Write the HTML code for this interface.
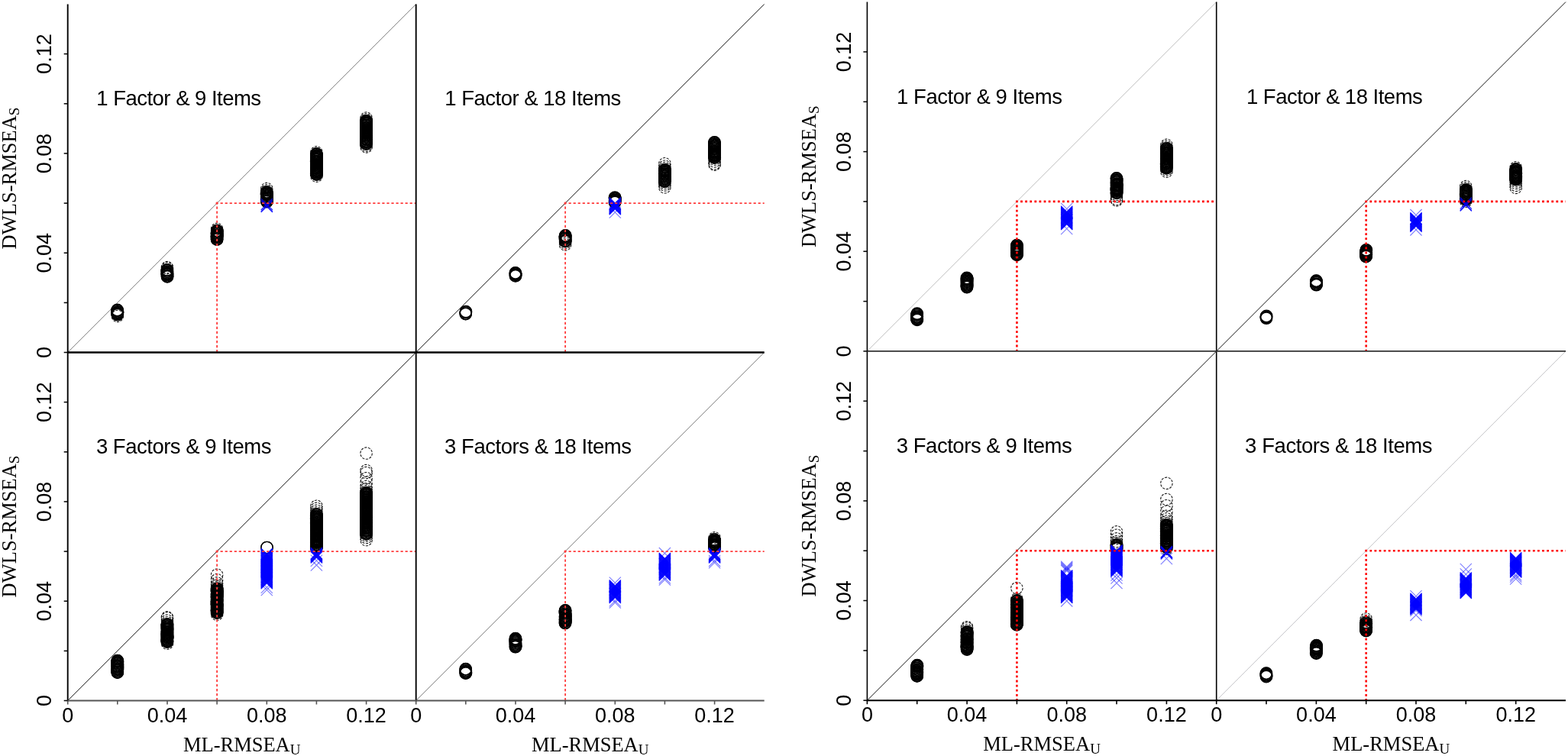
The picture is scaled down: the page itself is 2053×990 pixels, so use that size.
<!DOCTYPE html><html><head><meta charset="utf-8"><title>ML-RMSEA vs DWLS-RMSEA</title><style>
html,body{margin:0;padding:0;background:#fff;width:2053px;height:990px;overflow:hidden}
svg{display:block}
.ax{stroke:#111;fill:none}
.pt circle{fill:none;stroke:#000;stroke-width:1.25}
.pt circle.t{stroke:#000;stroke-width:1.1;stroke-opacity:0.9;stroke-dasharray:3.2 1.6}
.bx path{fill:none;stroke:#0000ff;stroke-width:1.15;stroke-opacity:0.85} .bx path.t{stroke-opacity:0.5}
.tl{font-family:"Liberation Sans",Arial,sans-serif;font-size:27.5px;fill:#000}
.tk{font-family:"Liberation Sans",Arial,sans-serif;font-size:27px;fill:#000}
.lb{font-family:"Liberation Serif","Times New Roman",serif;font-size:26.5px;fill:#000}
</style></head><body>
<svg width="2053" height="990" viewBox="0 0 2053 990">
<rect width="2053" height="990" fill="#fff"/>
<line x1="88.7" y1="461.5" x2="544.7" y2="5.5" stroke="#7a7a7a" stroke-width="1.0"/>
<g class="pt"><circle cx="153.61" cy="405.93" r="7.7"/><circle cx="153.81" cy="412.28" r="7.7"/><circle cx="153.63" cy="406.28" r="7.7"/><circle cx="153.64" cy="407.10" r="7.7"/><circle cx="153.81" cy="408.28" r="7.7"/><circle cx="154.01" cy="408.87" r="7.7"/><circle cx="153.65" cy="410.03" r="7.7"/><circle cx="153.70" cy="410.84" r="7.7"/><circle cx="153.91" cy="411.58" r="7.7"/><circle cx="154.07" cy="409.15" r="7.7"/><circle cx="153.8" cy="413.88" r="7.7" class="t"/><circle cx="218.92" cy="353.22" r="7.7"/><circle cx="219.01" cy="362.48" r="7.7"/><circle cx="218.77" cy="353.68" r="7.7"/><circle cx="218.77" cy="354.43" r="7.7"/><circle cx="218.84" cy="355.57" r="7.7"/><circle cx="219.08" cy="355.94" r="7.7"/><circle cx="218.95" cy="357.19" r="7.7"/><circle cx="218.89" cy="357.74" r="7.7"/><circle cx="219.03" cy="358.51" r="7.7"/><circle cx="218.96" cy="359.34" r="7.7"/><circle cx="218.89" cy="360.28" r="7.7"/><circle cx="219.13" cy="361.37" r="7.7"/><circle cx="219.09" cy="361.89" r="7.7"/><circle cx="218.86" cy="358.60" r="7.7"/><circle cx="219.02" cy="359.13" r="7.7"/><circle cx="219.0" cy="351.22" r="7.7" class="t"/><circle cx="219.0" cy="350.12" r="7.7" class="t"/><circle cx="284.17" cy="301.82" r="7.7"/><circle cx="284.11" cy="313.68" r="7.7"/><circle cx="284.30" cy="302.44" r="7.7"/><circle cx="284.35" cy="303.21" r="7.7"/><circle cx="284.12" cy="303.83" r="7.7"/><circle cx="284.21" cy="305.03" r="7.7"/><circle cx="283.91" cy="305.44" r="7.7"/><circle cx="284.23" cy="306.44" r="7.7"/><circle cx="284.20" cy="307.46" r="7.7"/><circle cx="284.38" cy="308.00" r="7.7"/><circle cx="284.29" cy="309.01" r="7.7"/><circle cx="284.02" cy="309.63" r="7.7"/><circle cx="284.07" cy="310.80" r="7.7"/><circle cx="284.21" cy="311.69" r="7.7"/><circle cx="283.89" cy="312.44" r="7.7"/><circle cx="284.11" cy="313.44" r="7.7"/><circle cx="283.96" cy="305.54" r="7.7"/><circle cx="283.94" cy="310.06" r="7.7"/><circle cx="283.91" cy="308.87" r="7.7"/><circle cx="284.1" cy="299.82" r="7.7" class="t"/><circle cx="349.14" cy="251.32" r="7.7"/><circle cx="349.26" cy="264.07" r="7.7"/><circle cx="349.32" cy="251.56" r="7.7"/><circle cx="349.15" cy="252.47" r="7.7"/><circle cx="349.02" cy="253.39" r="7.7"/><circle cx="349.23" cy="254.49" r="7.7"/><circle cx="349.21" cy="254.94" r="7.7"/><circle cx="349.30" cy="255.97" r="7.7"/><circle cx="349.50" cy="256.88" r="7.7"/><circle cx="349.37" cy="257.90" r="7.7"/><circle cx="349.28" cy="258.71" r="7.7"/><circle cx="349.33" cy="259.59" r="7.7"/><circle cx="349.36" cy="260.14" r="7.7"/><circle cx="349.05" cy="261.06" r="7.7"/><circle cx="349.47" cy="261.88" r="7.7"/><circle cx="349.41" cy="263.00" r="7.7"/><circle cx="349.46" cy="263.88" r="7.7"/><circle cx="349.42" cy="253.25" r="7.7"/><circle cx="349.22" cy="253.57" r="7.7"/><circle cx="349.22" cy="254.28" r="7.7"/><circle cx="349.3" cy="249.32" r="7.7" class="t"/><circle cx="349.3" cy="247.03" r="7.7" class="t"/><circle cx="414.43" cy="201.32" r="7.7"/><circle cx="414.55" cy="228.68" r="7.7"/><circle cx="414.33" cy="201.52" r="7.7"/><circle cx="414.28" cy="202.32" r="7.7"/><circle cx="414.57" cy="203.20" r="7.7"/><circle cx="414.66" cy="203.98" r="7.7"/><circle cx="414.59" cy="204.87" r="7.7"/><circle cx="414.57" cy="205.53" r="7.7"/><circle cx="414.57" cy="206.31" r="7.7"/><circle cx="414.53" cy="207.19" r="7.7"/><circle cx="414.28" cy="207.97" r="7.7"/><circle cx="414.42" cy="208.90" r="7.7"/><circle cx="414.34" cy="209.54" r="7.7"/><circle cx="414.18" cy="210.76" r="7.7"/><circle cx="414.18" cy="211.44" r="7.7"/><circle cx="414.30" cy="212.01" r="7.7"/><circle cx="414.29" cy="212.87" r="7.7"/><circle cx="414.51" cy="213.72" r="7.7"/><circle cx="414.64" cy="214.53" r="7.7"/><circle cx="414.39" cy="215.22" r="7.7"/><circle cx="414.63" cy="216.38" r="7.7"/><circle cx="414.66" cy="217.25" r="7.7"/><circle cx="414.64" cy="217.80" r="7.7"/><circle cx="414.35" cy="218.61" r="7.7"/><circle cx="414.27" cy="219.22" r="7.7"/><circle cx="414.28" cy="220.04" r="7.7"/><circle cx="414.26" cy="220.96" r="7.7"/><circle cx="414.27" cy="221.72" r="7.7"/><circle cx="414.48" cy="222.80" r="7.7"/><circle cx="414.61" cy="223.28" r="7.7"/><circle cx="414.58" cy="224.02" r="7.7"/><circle cx="414.40" cy="225.27" r="7.7"/><circle cx="414.49" cy="225.87" r="7.7"/><circle cx="414.56" cy="226.49" r="7.7"/><circle cx="414.21" cy="227.49" r="7.7"/><circle cx="414.49" cy="228.04" r="7.7"/><circle cx="414.62" cy="215.77" r="7.7"/><circle cx="414.56" cy="228.09" r="7.7"/><circle cx="414.54" cy="224.94" r="7.7"/><circle cx="414.40" cy="220.37" r="7.7"/><circle cx="414.25" cy="208.47" r="7.7"/><circle cx="414.56" cy="211.35" r="7.7"/><circle cx="414.33" cy="205.89" r="7.7"/><circle cx="414.56" cy="222.44" r="7.7"/><circle cx="414.4" cy="199.32" r="7.7" class="t"/><circle cx="414.4" cy="230.68" r="7.7" class="t"/><circle cx="479.39" cy="158.32" r="7.7"/><circle cx="479.54" cy="188.68" r="7.7"/><circle cx="479.67" cy="158.69" r="7.7"/><circle cx="479.59" cy="159.78" r="7.7"/><circle cx="479.47" cy="160.49" r="7.7"/><circle cx="479.57" cy="161.03" r="7.7"/><circle cx="479.58" cy="161.83" r="7.7"/><circle cx="479.70" cy="162.66" r="7.7"/><circle cx="479.36" cy="163.86" r="7.7"/><circle cx="479.59" cy="164.63" r="7.7"/><circle cx="479.43" cy="165.12" r="7.7"/><circle cx="479.45" cy="166.28" r="7.7"/><circle cx="479.69" cy="167.17" r="7.7"/><circle cx="479.56" cy="167.84" r="7.7"/><circle cx="479.59" cy="168.50" r="7.7"/><circle cx="479.69" cy="169.42" r="7.7"/><circle cx="479.76" cy="170.04" r="7.7"/><circle cx="479.53" cy="170.80" r="7.7"/><circle cx="479.61" cy="172.09" r="7.7"/><circle cx="479.56" cy="172.75" r="7.7"/><circle cx="479.56" cy="173.51" r="7.7"/><circle cx="479.65" cy="174.53" r="7.7"/><circle cx="479.53" cy="175.11" r="7.7"/><circle cx="479.57" cy="176.14" r="7.7"/><circle cx="479.55" cy="176.94" r="7.7"/><circle cx="479.78" cy="177.46" r="7.7"/><circle cx="479.66" cy="178.30" r="7.7"/><circle cx="479.75" cy="179.14" r="7.7"/><circle cx="479.78" cy="179.93" r="7.7"/><circle cx="479.44" cy="180.92" r="7.7"/><circle cx="479.59" cy="181.58" r="7.7"/><circle cx="479.78" cy="182.48" r="7.7"/><circle cx="479.73" cy="183.16" r="7.7"/><circle cx="479.38" cy="184.37" r="7.7"/><circle cx="479.37" cy="184.91" r="7.7"/><circle cx="479.53" cy="185.78" r="7.7"/><circle cx="479.34" cy="186.67" r="7.7"/><circle cx="479.43" cy="187.64" r="7.7"/><circle cx="479.34" cy="188.23" r="7.7"/><circle cx="479.64" cy="186.18" r="7.7"/><circle cx="479.70" cy="173.55" r="7.7"/><circle cx="479.76" cy="174.47" r="7.7"/><circle cx="479.38" cy="174.21" r="7.7"/><circle cx="479.67" cy="158.89" r="7.7"/><circle cx="479.64" cy="171.68" r="7.7"/><circle cx="479.38" cy="163.88" r="7.7"/><circle cx="479.75" cy="158.44" r="7.7"/><circle cx="479.79" cy="182.58" r="7.7"/><circle cx="479.6" cy="156.32" r="7.7" class="t"/><circle cx="479.6" cy="154.52" r="7.7" class="t"/><circle cx="479.6" cy="190.68" r="7.7" class="t"/><circle cx="479.6" cy="192.38" r="7.7" class="t"/></g>
<g class="bx"><path d="M341.7 259.8l15.2 15.2m-15.2 0l15.2 -15.2"/><path d="M341.7 261.7l15.2 15.2m-15.2 0l15.2 -15.2"/><path d="M341.7 262.8l15.2 15.2m-15.2 0l15.2 -15.2"/></g>
<path d="M284.13 264.47V461.5M282.53 266.07H544.7" fill="none" stroke="#ff3b3b" stroke-width="1.8" stroke-dasharray="3.2 2.85"/>
<text class="tl" x="126.3" y="137.7" textLength="215.8">1 Factor &amp; 9 Items</text>
<line x1="544.7" y1="461.5" x2="1000.7" y2="5.5" stroke="#111" stroke-width="1.0"/>
<g class="pt"><circle cx="610.01" cy="408.02" r="7.7"/><circle cx="609.67" cy="411.07" r="7.7"/><circle cx="609.81" cy="408.47" r="7.7"/><circle cx="609.85" cy="409.54" r="7.7"/><circle cx="609.76" cy="410.87" r="7.7"/><circle cx="674.74" cy="357.32" r="7.7"/><circle cx="674.90" cy="361.38" r="7.7"/><circle cx="675.05" cy="357.58" r="7.7"/><circle cx="674.99" cy="358.45" r="7.7"/><circle cx="674.77" cy="359.46" r="7.7"/><circle cx="675.23" cy="359.93" r="7.7"/><circle cx="675.13" cy="361.00" r="7.7"/><circle cx="675.22" cy="359.11" r="7.7"/><circle cx="740.34" cy="308.32" r="7.7"/><circle cx="740.16" cy="316.18" r="7.7"/><circle cx="740.23" cy="308.55" r="7.7"/><circle cx="739.92" cy="309.51" r="7.7"/><circle cx="739.91" cy="310.26" r="7.7"/><circle cx="740.22" cy="311.52" r="7.7"/><circle cx="740.09" cy="312.13" r="7.7"/><circle cx="739.91" cy="312.93" r="7.7"/><circle cx="740.35" cy="313.95" r="7.7"/><circle cx="740.20" cy="315.08" r="7.7"/><circle cx="740.28" cy="315.91" r="7.7"/><circle cx="739.92" cy="310.36" r="7.7"/><circle cx="740.31" cy="309.50" r="7.7"/><circle cx="740.1" cy="318.18" r="7.7" class="t"/><circle cx="740.1" cy="320.44" r="7.7" class="t"/><circle cx="805.05" cy="258.62" r="7.7"/><circle cx="805.12" cy="265.18" r="7.7"/><circle cx="805.18" cy="259.01" r="7.7"/><circle cx="805.17" cy="259.77" r="7.7"/><circle cx="805.40" cy="260.70" r="7.7"/><circle cx="805.17" cy="261.70" r="7.7"/><circle cx="805.27" cy="262.20" r="7.7"/><circle cx="805.11" cy="262.95" r="7.7"/><circle cx="805.19" cy="263.96" r="7.7"/><circle cx="805.03" cy="264.64" r="7.7"/><circle cx="805.15" cy="259.34" r="7.7"/><circle cx="805.03" cy="259.68" r="7.7"/><circle cx="870.53" cy="222.02" r="7.7"/><circle cx="870.29" cy="237.98" r="7.7"/><circle cx="870.25" cy="222.56" r="7.7"/><circle cx="870.21" cy="223.31" r="7.7"/><circle cx="870.58" cy="223.97" r="7.7"/><circle cx="870.60" cy="224.95" r="7.7"/><circle cx="870.50" cy="226.02" r="7.7"/><circle cx="870.31" cy="226.44" r="7.7"/><circle cx="870.29" cy="227.64" r="7.7"/><circle cx="870.31" cy="228.29" r="7.7"/><circle cx="870.39" cy="229.16" r="7.7"/><circle cx="870.24" cy="230.17" r="7.7"/><circle cx="870.39" cy="230.79" r="7.7"/><circle cx="870.30" cy="231.68" r="7.7"/><circle cx="870.65" cy="232.61" r="7.7"/><circle cx="870.65" cy="233.60" r="7.7"/><circle cx="870.44" cy="234.12" r="7.7"/><circle cx="870.29" cy="235.20" r="7.7"/><circle cx="870.65" cy="235.98" r="7.7"/><circle cx="870.32" cy="236.78" r="7.7"/><circle cx="870.34" cy="237.51" r="7.7"/><circle cx="870.16" cy="227.57" r="7.7"/><circle cx="870.36" cy="222.89" r="7.7"/><circle cx="870.40" cy="224.10" r="7.7"/><circle cx="870.42" cy="223.15" r="7.7"/><circle cx="870.4" cy="220.02" r="7.7" class="t"/><circle cx="870.4" cy="217.66" r="7.7" class="t"/><circle cx="870.4" cy="214.27" r="7.7" class="t"/><circle cx="870.4" cy="239.98" r="7.7" class="t"/><circle cx="870.4" cy="242.39" r="7.7" class="t"/><circle cx="870.4" cy="245.36" r="7.7" class="t"/><circle cx="935.65" cy="186.32" r="7.7"/><circle cx="935.42" cy="206.68" r="7.7"/><circle cx="935.32" cy="186.51" r="7.7"/><circle cx="935.37" cy="187.31" r="7.7"/><circle cx="935.49" cy="188.26" r="7.7"/><circle cx="935.36" cy="189.04" r="7.7"/><circle cx="935.73" cy="190.03" r="7.7"/><circle cx="935.59" cy="190.82" r="7.7"/><circle cx="935.62" cy="191.74" r="7.7"/><circle cx="935.62" cy="192.51" r="7.7"/><circle cx="935.65" cy="193.35" r="7.7"/><circle cx="935.55" cy="194.24" r="7.7"/><circle cx="935.31" cy="194.82" r="7.7"/><circle cx="935.71" cy="195.60" r="7.7"/><circle cx="935.68" cy="196.74" r="7.7"/><circle cx="935.56" cy="197.14" r="7.7"/><circle cx="935.57" cy="198.24" r="7.7"/><circle cx="935.64" cy="199.01" r="7.7"/><circle cx="935.34" cy="199.53" r="7.7"/><circle cx="935.68" cy="200.73" r="7.7"/><circle cx="935.43" cy="201.58" r="7.7"/><circle cx="935.34" cy="202.26" r="7.7"/><circle cx="935.44" cy="203.13" r="7.7"/><circle cx="935.67" cy="203.98" r="7.7"/><circle cx="935.41" cy="204.46" r="7.7"/><circle cx="935.68" cy="205.47" r="7.7"/><circle cx="935.80" cy="206.27" r="7.7"/><circle cx="935.55" cy="203.32" r="7.7"/><circle cx="935.50" cy="202.70" r="7.7"/><circle cx="935.55" cy="203.14" r="7.7"/><circle cx="935.65" cy="198.21" r="7.7"/><circle cx="935.69" cy="204.49" r="7.7"/><circle cx="935.62" cy="200.22" r="7.7"/><circle cx="935.6" cy="208.68" r="7.7" class="t"/><circle cx="935.6" cy="211.39" r="7.7" class="t"/><circle cx="935.6" cy="214.34" r="7.7" class="t"/><circle cx="935.6" cy="215.68" r="7.7" class="t"/></g>
<g class="bx"><path d="M797.7 258.4l15.2 15.2m-15.2 0l15.2 -15.2"/><path d="M797.7 259.1l15.2 15.2m-15.2 0l15.2 -15.2"/><path d="M797.7 259.8l15.2 15.2m-15.2 0l15.2 -15.2"/><path d="M797.7 260.5l15.2 15.2m-15.2 0l15.2 -15.2"/><path d="M797.7 261.2l15.2 15.2m-15.2 0l15.2 -15.2"/><path d="M797.7 261.9l15.2 15.2m-15.2 0l15.2 -15.2"/><path d="M797.7 262.7l15.2 15.2m-15.2 0l15.2 -15.2"/><path d="M797.7 263.4l15.2 15.2m-15.2 0l15.2 -15.2"/><path d="M797.7 264.1l15.2 15.2m-15.2 0l15.2 -15.2"/><path d="M797.7 264.8l15.2 15.2m-15.2 0l15.2 -15.2"/><path d="M797.7 265.5l15.2 15.2m-15.2 0l15.2 -15.2"/><path d="M797.7 266.2l15.2 15.2m-15.2 0l15.2 -15.2"/><path class="t" d="M797.7 270.5l15.2 15.2m-15.2 0l15.2 -15.2"/></g>
<path d="M740.13 264.47V461.5M738.53 266.07H1000.7" fill="none" stroke="#ff3b3b" stroke-width="1.8" stroke-dasharray="3.2 2.85"/>
<text class="tl" x="582.3" y="137.7" textLength="231.0">1 Factor &amp; 18 Items</text>
<line x1="88.7" y1="917.5" x2="544.7" y2="461.5" stroke="#111" stroke-width="1.0"/>
<g class="pt"><circle cx="153.82" cy="865.03" r="7.7"/><circle cx="153.73" cy="880.57" r="7.7"/><circle cx="153.70" cy="865.31" r="7.7"/><circle cx="154.07" cy="866.37" r="7.7"/><circle cx="153.70" cy="866.98" r="7.7"/><circle cx="153.88" cy="867.92" r="7.7"/><circle cx="153.66" cy="868.47" r="7.7"/><circle cx="153.85" cy="869.31" r="7.7"/><circle cx="154.07" cy="870.23" r="7.7"/><circle cx="153.66" cy="871.25" r="7.7"/><circle cx="154.00" cy="872.08" r="7.7"/><circle cx="153.85" cy="872.89" r="7.7"/><circle cx="154.04" cy="873.52" r="7.7"/><circle cx="153.94" cy="874.44" r="7.7"/><circle cx="153.71" cy="875.24" r="7.7"/><circle cx="154.04" cy="876.06" r="7.7"/><circle cx="153.84" cy="876.70" r="7.7"/><circle cx="153.61" cy="877.90" r="7.7"/><circle cx="153.59" cy="878.38" r="7.7"/><circle cx="153.84" cy="879.58" r="7.7"/><circle cx="153.82" cy="880.38" r="7.7"/><circle cx="153.74" cy="865.30" r="7.7"/><circle cx="153.66" cy="872.16" r="7.7"/><circle cx="153.76" cy="877.77" r="7.7"/><circle cx="153.75" cy="880.08" r="7.7"/><circle cx="218.96" cy="817.23" r="7.7"/><circle cx="219.11" cy="840.57" r="7.7"/><circle cx="219.06" cy="817.79" r="7.7"/><circle cx="218.88" cy="818.19" r="7.7"/><circle cx="218.76" cy="819.36" r="7.7"/><circle cx="219.20" cy="820.21" r="7.7"/><circle cx="218.80" cy="820.66" r="7.7"/><circle cx="218.97" cy="821.86" r="7.7"/><circle cx="218.91" cy="822.56" r="7.7"/><circle cx="218.88" cy="823.46" r="7.7"/><circle cx="219.11" cy="823.97" r="7.7"/><circle cx="219.22" cy="824.81" r="7.7"/><circle cx="218.87" cy="825.63" r="7.7"/><circle cx="219.06" cy="826.73" r="7.7"/><circle cx="218.89" cy="827.33" r="7.7"/><circle cx="219.01" cy="828.03" r="7.7"/><circle cx="218.93" cy="828.87" r="7.7"/><circle cx="218.82" cy="829.60" r="7.7"/><circle cx="218.82" cy="830.29" r="7.7"/><circle cx="218.84" cy="831.12" r="7.7"/><circle cx="219.19" cy="832.28" r="7.7"/><circle cx="218.98" cy="832.82" r="7.7"/><circle cx="218.85" cy="833.94" r="7.7"/><circle cx="219.19" cy="834.42" r="7.7"/><circle cx="219.23" cy="835.23" r="7.7"/><circle cx="218.96" cy="836.15" r="7.7"/><circle cx="218.81" cy="836.80" r="7.7"/><circle cx="218.83" cy="837.70" r="7.7"/><circle cx="218.78" cy="838.78" r="7.7"/><circle cx="218.91" cy="839.55" r="7.7"/><circle cx="218.78" cy="840.32" r="7.7"/><circle cx="218.86" cy="831.96" r="7.7"/><circle cx="218.86" cy="838.55" r="7.7"/><circle cx="219.02" cy="839.19" r="7.7"/><circle cx="219.18" cy="830.05" r="7.7"/><circle cx="219.11" cy="834.03" r="7.7"/><circle cx="218.94" cy="818.38" r="7.7"/><circle cx="218.94" cy="834.33" r="7.7"/><circle cx="219.0" cy="815.23" r="7.7" class="t"/><circle cx="219.0" cy="812.61" r="7.7" class="t"/><circle cx="219.0" cy="809.35" r="7.7" class="t"/><circle cx="219.0" cy="808.33" r="7.7" class="t"/><circle cx="219.0" cy="842.57" r="7.7" class="t"/><circle cx="284.17" cy="770.53" r="7.7"/><circle cx="284.07" cy="802.67" r="7.7"/><circle cx="283.99" cy="770.82" r="7.7"/><circle cx="284.18" cy="771.96" r="7.7"/><circle cx="283.88" cy="772.35" r="7.7"/><circle cx="284.03" cy="773.34" r="7.7"/><circle cx="284.11" cy="774.20" r="7.7"/><circle cx="284.36" cy="775.12" r="7.7"/><circle cx="284.20" cy="775.61" r="7.7"/><circle cx="284.32" cy="776.44" r="7.7"/><circle cx="284.12" cy="777.24" r="7.7"/><circle cx="284.00" cy="778.11" r="7.7"/><circle cx="284.00" cy="778.94" r="7.7"/><circle cx="284.36" cy="779.99" r="7.7"/><circle cx="284.23" cy="780.74" r="7.7"/><circle cx="284.03" cy="781.56" r="7.7"/><circle cx="283.89" cy="781.95" r="7.7"/><circle cx="284.13" cy="782.76" r="7.7"/><circle cx="284.22" cy="783.89" r="7.7"/><circle cx="284.09" cy="784.78" r="7.7"/><circle cx="284.01" cy="785.38" r="7.7"/><circle cx="284.21" cy="786.24" r="7.7"/><circle cx="284.34" cy="786.76" r="7.7"/><circle cx="283.99" cy="787.75" r="7.7"/><circle cx="283.90" cy="788.82" r="7.7"/><circle cx="284.05" cy="789.57" r="7.7"/><circle cx="284.09" cy="790.39" r="7.7"/><circle cx="284.22" cy="791.25" r="7.7"/><circle cx="283.98" cy="791.70" r="7.7"/><circle cx="284.28" cy="792.44" r="7.7"/><circle cx="284.25" cy="793.27" r="7.7"/><circle cx="284.13" cy="794.25" r="7.7"/><circle cx="283.98" cy="795.13" r="7.7"/><circle cx="284.36" cy="796.06" r="7.7"/><circle cx="284.03" cy="796.75" r="7.7"/><circle cx="284.29" cy="797.52" r="7.7"/><circle cx="283.99" cy="798.38" r="7.7"/><circle cx="283.99" cy="799.04" r="7.7"/><circle cx="284.26" cy="799.89" r="7.7"/><circle cx="284.03" cy="800.44" r="7.7"/><circle cx="284.35" cy="801.61" r="7.7"/><circle cx="284.13" cy="802.14" r="7.7"/><circle cx="283.97" cy="800.10" r="7.7"/><circle cx="283.99" cy="791.28" r="7.7"/><circle cx="284.09" cy="780.29" r="7.7"/><circle cx="284.21" cy="774.64" r="7.7"/><circle cx="284.35" cy="778.62" r="7.7"/><circle cx="283.95" cy="790.98" r="7.7"/><circle cx="284.08" cy="792.98" r="7.7"/><circle cx="283.99" cy="774.13" r="7.7"/><circle cx="284.37" cy="772.79" r="7.7"/><circle cx="283.95" cy="787.39" r="7.7"/><circle cx="284.1" cy="768.53" r="7.7" class="t"/><circle cx="284.1" cy="766.27" r="7.7" class="t"/><circle cx="284.1" cy="763.34" r="7.7" class="t"/><circle cx="284.1" cy="759.09" r="7.7" class="t"/><circle cx="284.1" cy="752.69" r="7.7" class="t"/><circle cx="284.1" cy="804.67" r="7.7" class="t"/><circle cx="349.52" cy="717.00" r="7.7"/><circle cx="349.49" cy="717.00" r="7.7"/><circle cx="414.33" cy="673.33" r="7.7"/><circle cx="414.32" cy="717.67" r="7.7"/><circle cx="414.35" cy="673.65" r="7.7"/><circle cx="414.56" cy="674.38" r="7.7"/><circle cx="414.20" cy="675.55" r="7.7"/><circle cx="414.26" cy="676.27" r="7.7"/><circle cx="414.54" cy="676.73" r="7.7"/><circle cx="414.29" cy="677.84" r="7.7"/><circle cx="414.20" cy="678.51" r="7.7"/><circle cx="414.18" cy="679.31" r="7.7"/><circle cx="414.44" cy="680.10" r="7.7"/><circle cx="414.33" cy="680.83" r="7.7"/><circle cx="414.65" cy="681.55" r="7.7"/><circle cx="414.61" cy="682.49" r="7.7"/><circle cx="414.66" cy="683.33" r="7.7"/><circle cx="414.30" cy="684.43" r="7.7"/><circle cx="414.21" cy="684.84" r="7.7"/><circle cx="414.21" cy="686.05" r="7.7"/><circle cx="414.41" cy="686.49" r="7.7"/><circle cx="414.52" cy="687.37" r="7.7"/><circle cx="414.39" cy="688.40" r="7.7"/><circle cx="414.28" cy="689.20" r="7.7"/><circle cx="414.37" cy="689.82" r="7.7"/><circle cx="414.47" cy="690.44" r="7.7"/><circle cx="414.50" cy="691.46" r="7.7"/><circle cx="414.54" cy="692.21" r="7.7"/><circle cx="414.59" cy="693.28" r="7.7"/><circle cx="414.50" cy="693.74" r="7.7"/><circle cx="414.22" cy="694.63" r="7.7"/><circle cx="414.58" cy="695.69" r="7.7"/><circle cx="414.31" cy="696.08" r="7.7"/><circle cx="414.45" cy="697.07" r="7.7"/><circle cx="414.35" cy="698.07" r="7.7"/><circle cx="414.53" cy="698.85" r="7.7"/><circle cx="414.26" cy="699.31" r="7.7"/><circle cx="414.29" cy="700.11" r="7.7"/><circle cx="414.29" cy="700.93" r="7.7"/><circle cx="414.24" cy="702.15" r="7.7"/><circle cx="414.61" cy="702.64" r="7.7"/><circle cx="414.45" cy="703.68" r="7.7"/><circle cx="414.33" cy="704.56" r="7.7"/><circle cx="414.36" cy="705.10" r="7.7"/><circle cx="414.66" cy="705.87" r="7.7"/><circle cx="414.42" cy="707.01" r="7.7"/><circle cx="414.28" cy="707.65" r="7.7"/><circle cx="414.57" cy="708.29" r="7.7"/><circle cx="414.49" cy="709.31" r="7.7"/><circle cx="414.66" cy="709.93" r="7.7"/><circle cx="414.22" cy="710.71" r="7.7"/><circle cx="414.40" cy="711.39" r="7.7"/><circle cx="414.57" cy="712.56" r="7.7"/><circle cx="414.58" cy="713.44" r="7.7"/><circle cx="414.62" cy="714.11" r="7.7"/><circle cx="414.18" cy="715.07" r="7.7"/><circle cx="414.31" cy="715.43" r="7.7"/><circle cx="414.22" cy="716.34" r="7.7"/><circle cx="414.26" cy="717.26" r="7.7"/><circle cx="414.65" cy="715.76" r="7.7"/><circle cx="414.46" cy="715.63" r="7.7"/><circle cx="414.63" cy="690.47" r="7.7"/><circle cx="414.35" cy="684.46" r="7.7"/><circle cx="414.60" cy="692.39" r="7.7"/><circle cx="414.39" cy="695.21" r="7.7"/><circle cx="414.29" cy="714.49" r="7.7"/><circle cx="414.55" cy="681.44" r="7.7"/><circle cx="414.64" cy="708.92" r="7.7"/><circle cx="414.22" cy="706.08" r="7.7"/><circle cx="414.46" cy="709.81" r="7.7"/><circle cx="414.47" cy="707.60" r="7.7"/><circle cx="414.27" cy="700.26" r="7.7"/><circle cx="414.4" cy="671.33" r="7.7" class="t"/><circle cx="414.4" cy="668.83" r="7.7" class="t"/><circle cx="414.4" cy="665.81" r="7.7" class="t"/><circle cx="414.4" cy="662.73" r="7.7" class="t"/><circle cx="479.59" cy="645.03" r="7.7"/><circle cx="479.69" cy="699.47" r="7.7"/><circle cx="479.33" cy="645.31" r="7.7"/><circle cx="479.73" cy="646.27" r="7.7"/><circle cx="479.37" cy="647.10" r="7.7"/><circle cx="479.61" cy="647.69" r="7.7"/><circle cx="479.58" cy="648.39" r="7.7"/><circle cx="479.62" cy="649.35" r="7.7"/><circle cx="479.46" cy="650.32" r="7.7"/><circle cx="479.52" cy="650.88" r="7.7"/><circle cx="479.60" cy="651.74" r="7.7"/><circle cx="479.52" cy="652.49" r="7.7"/><circle cx="479.64" cy="653.57" r="7.7"/><circle cx="479.53" cy="654.26" r="7.7"/><circle cx="479.53" cy="654.82" r="7.7"/><circle cx="479.32" cy="655.64" r="7.7"/><circle cx="479.62" cy="656.59" r="7.7"/><circle cx="479.55" cy="657.46" r="7.7"/><circle cx="479.42" cy="658.30" r="7.7"/><circle cx="479.69" cy="658.84" r="7.7"/><circle cx="479.70" cy="659.68" r="7.7"/><circle cx="479.54" cy="660.73" r="7.7"/><circle cx="479.40" cy="661.40" r="7.7"/><circle cx="479.54" cy="662.14" r="7.7"/><circle cx="479.36" cy="662.95" r="7.7"/><circle cx="479.37" cy="664.06" r="7.7"/><circle cx="479.52" cy="664.55" r="7.7"/><circle cx="479.35" cy="665.48" r="7.7"/><circle cx="479.53" cy="666.18" r="7.7"/><circle cx="479.56" cy="667.01" r="7.7"/><circle cx="479.33" cy="668.02" r="7.7"/><circle cx="479.63" cy="668.89" r="7.7"/><circle cx="479.35" cy="669.38" r="7.7"/><circle cx="479.67" cy="670.10" r="7.7"/><circle cx="479.70" cy="671.16" r="7.7"/><circle cx="479.56" cy="671.71" r="7.7"/><circle cx="479.33" cy="672.41" r="7.7"/><circle cx="479.56" cy="673.64" r="7.7"/><circle cx="479.50" cy="674.22" r="7.7"/><circle cx="479.78" cy="675.21" r="7.7"/><circle cx="479.38" cy="675.81" r="7.7"/><circle cx="479.74" cy="676.84" r="7.7"/><circle cx="479.81" cy="677.44" r="7.7"/><circle cx="479.67" cy="678.09" r="7.7"/><circle cx="479.71" cy="678.82" r="7.7"/><circle cx="479.40" cy="679.88" r="7.7"/><circle cx="479.80" cy="680.73" r="7.7"/><circle cx="479.55" cy="681.66" r="7.7"/><circle cx="479.79" cy="682.06" r="7.7"/><circle cx="479.77" cy="683.12" r="7.7"/><circle cx="479.39" cy="683.80" r="7.7"/><circle cx="479.70" cy="684.66" r="7.7"/><circle cx="479.77" cy="685.29" r="7.7"/><circle cx="479.34" cy="686.16" r="7.7"/><circle cx="479.48" cy="687.07" r="7.7"/><circle cx="479.69" cy="688.07" r="7.7"/><circle cx="479.39" cy="688.48" r="7.7"/><circle cx="479.76" cy="689.46" r="7.7"/><circle cx="479.44" cy="690.41" r="7.7"/><circle cx="479.71" cy="691.29" r="7.7"/><circle cx="479.38" cy="691.72" r="7.7"/><circle cx="479.56" cy="692.49" r="7.7"/><circle cx="479.77" cy="693.68" r="7.7"/><circle cx="479.41" cy="694.50" r="7.7"/><circle cx="479.44" cy="695.06" r="7.7"/><circle cx="479.56" cy="695.66" r="7.7"/><circle cx="479.47" cy="696.88" r="7.7"/><circle cx="479.33" cy="697.42" r="7.7"/><circle cx="479.40" cy="698.47" r="7.7"/><circle cx="479.39" cy="699.13" r="7.7"/><circle cx="479.78" cy="689.92" r="7.7"/><circle cx="479.65" cy="653.75" r="7.7"/><circle cx="479.75" cy="687.81" r="7.7"/><circle cx="479.39" cy="657.12" r="7.7"/><circle cx="479.70" cy="667.05" r="7.7"/><circle cx="479.36" cy="691.11" r="7.7"/><circle cx="479.57" cy="690.17" r="7.7"/><circle cx="479.63" cy="654.99" r="7.7"/><circle cx="479.49" cy="656.90" r="7.7"/><circle cx="479.74" cy="666.79" r="7.7"/><circle cx="479.58" cy="673.22" r="7.7"/><circle cx="479.60" cy="665.91" r="7.7"/><circle cx="479.75" cy="651.73" r="7.7"/><circle cx="479.36" cy="658.48" r="7.7"/><circle cx="479.80" cy="684.49" r="7.7"/><circle cx="479.62" cy="693.88" r="7.7"/><circle cx="479.50" cy="647.26" r="7.7"/><circle cx="479.6" cy="643.03" r="7.7" class="t"/><circle cx="479.6" cy="640.19" r="7.7" class="t"/><circle cx="479.6" cy="637.05" r="7.7" class="t"/><circle cx="479.6" cy="632.01" r="7.7" class="t"/><circle cx="479.6" cy="626.17" r="7.7" class="t"/><circle cx="479.6" cy="619.05" r="7.7" class="t"/><circle cx="479.6" cy="616.12" r="7.7" class="t"/><circle cx="479.6" cy="701.47" r="7.7" class="t"/><circle cx="479.6" cy="704.03" r="7.7" class="t"/><circle cx="479.6" cy="707.08" r="7.7" class="t"/><circle cx="479.6" cy="593.60" r="7.7" class="t"/></g>
<g class="bx"><path d="M341.7 717.8l15.2 15.2m-15.2 0l15.2 -15.2"/><path d="M341.7 718.5l15.2 15.2m-15.2 0l15.2 -15.2"/><path d="M341.7 719.2l15.2 15.2m-15.2 0l15.2 -15.2"/><path d="M341.7 719.9l15.2 15.2m-15.2 0l15.2 -15.2"/><path d="M341.7 720.6l15.2 15.2m-15.2 0l15.2 -15.2"/><path d="M341.7 721.3l15.2 15.2m-15.2 0l15.2 -15.2"/><path d="M341.7 722.1l15.2 15.2m-15.2 0l15.2 -15.2"/><path d="M341.7 722.8l15.2 15.2m-15.2 0l15.2 -15.2"/><path d="M341.7 723.5l15.2 15.2m-15.2 0l15.2 -15.2"/><path d="M341.7 724.2l15.2 15.2m-15.2 0l15.2 -15.2"/><path d="M341.7 724.9l15.2 15.2m-15.2 0l15.2 -15.2"/><path d="M341.7 725.6l15.2 15.2m-15.2 0l15.2 -15.2"/><path d="M341.7 726.3l15.2 15.2m-15.2 0l15.2 -15.2"/><path d="M341.7 727.0l15.2 15.2m-15.2 0l15.2 -15.2"/><path d="M341.7 727.7l15.2 15.2m-15.2 0l15.2 -15.2"/><path d="M341.7 728.4l15.2 15.2m-15.2 0l15.2 -15.2"/><path d="M341.7 729.1l15.2 15.2m-15.2 0l15.2 -15.2"/><path d="M341.7 729.9l15.2 15.2m-15.2 0l15.2 -15.2"/><path d="M341.7 730.6l15.2 15.2m-15.2 0l15.2 -15.2"/><path d="M341.7 731.3l15.2 15.2m-15.2 0l15.2 -15.2"/><path d="M341.7 732.0l15.2 15.2m-15.2 0l15.2 -15.2"/><path d="M341.7 732.7l15.2 15.2m-15.2 0l15.2 -15.2"/><path d="M341.7 733.4l15.2 15.2m-15.2 0l15.2 -15.2"/><path d="M341.7 734.1l15.2 15.2m-15.2 0l15.2 -15.2"/><path d="M341.7 734.8l15.2 15.2m-15.2 0l15.2 -15.2"/><path d="M341.7 735.5l15.2 15.2m-15.2 0l15.2 -15.2"/><path d="M341.7 736.2l15.2 15.2m-15.2 0l15.2 -15.2"/><path d="M341.7 736.9l15.2 15.2m-15.2 0l15.2 -15.2"/><path d="M341.7 737.7l15.2 15.2m-15.2 0l15.2 -15.2"/><path d="M341.7 738.4l15.2 15.2m-15.2 0l15.2 -15.2"/><path d="M341.7 739.1l15.2 15.2m-15.2 0l15.2 -15.2"/><path d="M341.7 739.8l15.2 15.2m-15.2 0l15.2 -15.2"/><path d="M341.7 740.5l15.2 15.2m-15.2 0l15.2 -15.2"/><path d="M341.7 741.2l15.2 15.2m-15.2 0l15.2 -15.2"/><path d="M341.7 741.9l15.2 15.2m-15.2 0l15.2 -15.2"/><path d="M341.7 742.6l15.2 15.2m-15.2 0l15.2 -15.2"/><path d="M341.7 743.3l15.2 15.2m-15.2 0l15.2 -15.2"/><path d="M341.7 744.0l15.2 15.2m-15.2 0l15.2 -15.2"/><path d="M341.7 744.8l15.2 15.2m-15.2 0l15.2 -15.2"/><path d="M341.7 745.5l15.2 15.2m-15.2 0l15.2 -15.2"/><path d="M341.7 746.2l15.2 15.2m-15.2 0l15.2 -15.2"/><path d="M341.7 746.9l15.2 15.2m-15.2 0l15.2 -15.2"/><path d="M341.7 747.6l15.2 15.2m-15.2 0l15.2 -15.2"/><path d="M341.7 748.3l15.2 15.2m-15.2 0l15.2 -15.2"/><path d="M341.7 749.0l15.2 15.2m-15.2 0l15.2 -15.2"/><path d="M341.7 749.7l15.2 15.2m-15.2 0l15.2 -15.2"/><path d="M341.7 750.4l15.2 15.2m-15.2 0l15.2 -15.2"/><path d="M341.7 751.1l15.2 15.2m-15.2 0l15.2 -15.2"/><path d="M341.7 751.8l15.2 15.2m-15.2 0l15.2 -15.2"/><path d="M341.7 752.6l15.2 15.2m-15.2 0l15.2 -15.2"/><path d="M341.7 753.3l15.2 15.2m-15.2 0l15.2 -15.2"/><path d="M341.7 754.0l15.2 15.2m-15.2 0l15.2 -15.2"/><path d="M341.7 754.7l15.2 15.2m-15.2 0l15.2 -15.2"/><path d="M341.7 755.4l15.2 15.2m-15.2 0l15.2 -15.2"/><path d="M341.7 756.1l15.2 15.2m-15.2 0l15.2 -15.2"/><path class="t" d="M341.7 761.6l15.2 15.2m-15.2 0l15.2 -15.2"/><path class="t" d="M341.7 764.9l15.2 15.2m-15.2 0l15.2 -15.2"/><path d="M406.8 716.9l15.2 15.2m-15.2 0l15.2 -15.2"/><path d="M406.8 717.7l15.2 15.2m-15.2 0l15.2 -15.2"/><path d="M406.8 718.4l15.2 15.2m-15.2 0l15.2 -15.2"/><path d="M406.8 719.2l15.2 15.2m-15.2 0l15.2 -15.2"/><path d="M406.8 720.0l15.2 15.2m-15.2 0l15.2 -15.2"/><path d="M406.8 720.8l15.2 15.2m-15.2 0l15.2 -15.2"/><path d="M406.8 721.5l15.2 15.2m-15.2 0l15.2 -15.2"/><path d="M406.8 722.3l15.2 15.2m-15.2 0l15.2 -15.2"/><path class="t" d="M406.8 726.6l15.2 15.2m-15.2 0l15.2 -15.2"/><path class="t" d="M406.8 732.5l15.2 15.2m-15.2 0l15.2 -15.2"/></g>
<path d="M284.13 720.47V917.5M282.53 722.07H544.7" fill="none" stroke="#ff3b3b" stroke-width="1.8" stroke-dasharray="3.2 2.85"/>
<text class="tl" x="125.9" y="593.9" textLength="229.6">3 Factors &amp; 9 Items</text>
<line x1="544.7" y1="917.5" x2="1000.7" y2="461.5" stroke="#7a7a7a" stroke-width="1.0"/>
<g class="pt"><circle cx="609.75" cy="876.12" r="7.7"/><circle cx="609.59" cy="881.67" r="7.7"/><circle cx="609.61" cy="876.34" r="7.7"/><circle cx="609.67" cy="877.69" r="7.7"/><circle cx="609.90" cy="878.30" r="7.7"/><circle cx="609.81" cy="879.44" r="7.7"/><circle cx="609.85" cy="880.56" r="7.7"/><circle cx="610.04" cy="881.26" r="7.7"/><circle cx="609.66" cy="879.81" r="7.7"/><circle cx="674.81" cy="836.12" r="7.7"/><circle cx="674.78" cy="847.27" r="7.7"/><circle cx="675.05" cy="836.41" r="7.7"/><circle cx="675.17" cy="837.49" r="7.7"/><circle cx="675.13" cy="838.02" r="7.7"/><circle cx="674.94" cy="838.87" r="7.7"/><circle cx="674.87" cy="839.91" r="7.7"/><circle cx="674.74" cy="840.64" r="7.7"/><circle cx="675.06" cy="841.63" r="7.7"/><circle cx="675.02" cy="842.42" r="7.7"/><circle cx="674.91" cy="843.46" r="7.7"/><circle cx="675.06" cy="844.32" r="7.7"/><circle cx="674.96" cy="844.98" r="7.7"/><circle cx="675.20" cy="846.05" r="7.7"/><circle cx="675.10" cy="846.83" r="7.7"/><circle cx="674.86" cy="837.63" r="7.7"/><circle cx="675.19" cy="846.57" r="7.7"/><circle cx="674.76" cy="838.84" r="7.7"/><circle cx="740.25" cy="799.43" r="7.7"/><circle cx="740.10" cy="816.07" r="7.7"/><circle cx="739.99" cy="799.86" r="7.7"/><circle cx="739.93" cy="800.63" r="7.7"/><circle cx="739.99" cy="801.38" r="7.7"/><circle cx="739.90" cy="802.12" r="7.7"/><circle cx="740.05" cy="803.31" r="7.7"/><circle cx="740.25" cy="803.76" r="7.7"/><circle cx="740.23" cy="804.86" r="7.7"/><circle cx="740.30" cy="805.89" r="7.7"/><circle cx="740.23" cy="806.32" r="7.7"/><circle cx="740.01" cy="807.18" r="7.7"/><circle cx="740.16" cy="808.22" r="7.7"/><circle cx="740.10" cy="809.00" r="7.7"/><circle cx="740.27" cy="809.90" r="7.7"/><circle cx="740.14" cy="810.82" r="7.7"/><circle cx="740.01" cy="811.33" r="7.7"/><circle cx="740.20" cy="812.23" r="7.7"/><circle cx="740.36" cy="813.06" r="7.7"/><circle cx="739.99" cy="813.77" r="7.7"/><circle cx="740.32" cy="815.02" r="7.7"/><circle cx="739.89" cy="815.80" r="7.7"/><circle cx="740.01" cy="811.34" r="7.7"/><circle cx="740.00" cy="799.53" r="7.7"/><circle cx="740.25" cy="813.48" r="7.7"/><circle cx="740.35" cy="811.83" r="7.7"/><circle cx="740.25" cy="807.17" r="7.7"/><circle cx="935.41" cy="706.33" r="7.7"/><circle cx="935.62" cy="717.67" r="7.7"/><circle cx="935.35" cy="706.65" r="7.7"/><circle cx="935.76" cy="707.73" r="7.7"/><circle cx="935.38" cy="708.27" r="7.7"/><circle cx="935.32" cy="709.04" r="7.7"/><circle cx="935.36" cy="710.17" r="7.7"/><circle cx="935.77" cy="710.85" r="7.7"/><circle cx="935.48" cy="711.69" r="7.7"/><circle cx="935.38" cy="712.49" r="7.7"/><circle cx="935.32" cy="713.45" r="7.7"/><circle cx="935.33" cy="714.01" r="7.7"/><circle cx="935.65" cy="715.00" r="7.7"/><circle cx="935.62" cy="715.74" r="7.7"/><circle cx="935.66" cy="716.63" r="7.7"/><circle cx="935.68" cy="717.24" r="7.7"/><circle cx="935.34" cy="714.55" r="7.7"/><circle cx="935.60" cy="712.80" r="7.7"/><circle cx="935.49" cy="709.82" r="7.7"/><circle cx="935.6" cy="704.33" r="7.7" class="t"/></g>
<g class="bx"><path d="M797.7 759.4l15.2 15.2m-15.2 0l15.2 -15.2"/><path d="M797.7 760.1l15.2 15.2m-15.2 0l15.2 -15.2"/><path d="M797.7 760.8l15.2 15.2m-15.2 0l15.2 -15.2"/><path d="M797.7 761.5l15.2 15.2m-15.2 0l15.2 -15.2"/><path d="M797.7 762.2l15.2 15.2m-15.2 0l15.2 -15.2"/><path d="M797.7 762.9l15.2 15.2m-15.2 0l15.2 -15.2"/><path d="M797.7 763.6l15.2 15.2m-15.2 0l15.2 -15.2"/><path d="M797.7 764.3l15.2 15.2m-15.2 0l15.2 -15.2"/><path d="M797.7 765.0l15.2 15.2m-15.2 0l15.2 -15.2"/><path d="M797.7 765.7l15.2 15.2m-15.2 0l15.2 -15.2"/><path d="M797.7 766.4l15.2 15.2m-15.2 0l15.2 -15.2"/><path d="M797.7 767.1l15.2 15.2m-15.2 0l15.2 -15.2"/><path d="M797.7 767.9l15.2 15.2m-15.2 0l15.2 -15.2"/><path d="M797.7 768.6l15.2 15.2m-15.2 0l15.2 -15.2"/><path d="M797.7 769.3l15.2 15.2m-15.2 0l15.2 -15.2"/><path d="M797.7 770.0l15.2 15.2m-15.2 0l15.2 -15.2"/><path d="M797.7 770.7l15.2 15.2m-15.2 0l15.2 -15.2"/><path d="M797.7 771.4l15.2 15.2m-15.2 0l15.2 -15.2"/><path d="M797.7 772.1l15.2 15.2m-15.2 0l15.2 -15.2"/><path d="M797.7 772.8l15.2 15.2m-15.2 0l15.2 -15.2"/><path d="M797.7 773.5l15.2 15.2m-15.2 0l15.2 -15.2"/><path d="M797.7 774.2l15.2 15.2m-15.2 0l15.2 -15.2"/><path d="M797.7 774.9l15.2 15.2m-15.2 0l15.2 -15.2"/><path class="t" d="M797.7 755.6l15.2 15.2m-15.2 0l15.2 -15.2"/><path class="t" d="M797.7 779.2l15.2 15.2m-15.2 0l15.2 -15.2"/><path class="t" d="M797.7 781.5l15.2 15.2m-15.2 0l15.2 -15.2"/><path d="M862.8 723.8l15.2 15.2m-15.2 0l15.2 -15.2"/><path d="M862.8 724.5l15.2 15.2m-15.2 0l15.2 -15.2"/><path d="M862.8 725.2l15.2 15.2m-15.2 0l15.2 -15.2"/><path d="M862.8 726.0l15.2 15.2m-15.2 0l15.2 -15.2"/><path d="M862.8 726.7l15.2 15.2m-15.2 0l15.2 -15.2"/><path d="M862.8 727.4l15.2 15.2m-15.2 0l15.2 -15.2"/><path d="M862.8 728.1l15.2 15.2m-15.2 0l15.2 -15.2"/><path d="M862.8 728.8l15.2 15.2m-15.2 0l15.2 -15.2"/><path d="M862.8 729.6l15.2 15.2m-15.2 0l15.2 -15.2"/><path d="M862.8 730.3l15.2 15.2m-15.2 0l15.2 -15.2"/><path d="M862.8 731.0l15.2 15.2m-15.2 0l15.2 -15.2"/><path d="M862.8 731.7l15.2 15.2m-15.2 0l15.2 -15.2"/><path d="M862.8 732.4l15.2 15.2m-15.2 0l15.2 -15.2"/><path d="M862.8 733.2l15.2 15.2m-15.2 0l15.2 -15.2"/><path d="M862.8 733.9l15.2 15.2m-15.2 0l15.2 -15.2"/><path d="M862.8 734.6l15.2 15.2m-15.2 0l15.2 -15.2"/><path d="M862.8 735.3l15.2 15.2m-15.2 0l15.2 -15.2"/><path d="M862.8 736.0l15.2 15.2m-15.2 0l15.2 -15.2"/><path d="M862.8 736.8l15.2 15.2m-15.2 0l15.2 -15.2"/><path d="M862.8 737.5l15.2 15.2m-15.2 0l15.2 -15.2"/><path d="M862.8 738.2l15.2 15.2m-15.2 0l15.2 -15.2"/><path d="M862.8 738.9l15.2 15.2m-15.2 0l15.2 -15.2"/><path d="M862.8 739.6l15.2 15.2m-15.2 0l15.2 -15.2"/><path d="M862.8 740.4l15.2 15.2m-15.2 0l15.2 -15.2"/><path d="M862.8 741.1l15.2 15.2m-15.2 0l15.2 -15.2"/><path d="M862.8 741.8l15.2 15.2m-15.2 0l15.2 -15.2"/><path d="M862.8 742.5l15.2 15.2m-15.2 0l15.2 -15.2"/><path d="M862.8 743.2l15.2 15.2m-15.2 0l15.2 -15.2"/><path d="M862.8 744.0l15.2 15.2m-15.2 0l15.2 -15.2"/><path d="M862.8 744.7l15.2 15.2m-15.2 0l15.2 -15.2"/><path d="M862.8 745.4l15.2 15.2m-15.2 0l15.2 -15.2"/><path class="t" d="M862.8 717.0l15.2 15.2m-15.2 0l15.2 -15.2"/><path class="t" d="M862.8 749.2l15.2 15.2m-15.2 0l15.2 -15.2"/><path class="t" d="M862.8 751.5l15.2 15.2m-15.2 0l15.2 -15.2"/><path d="M928.0 717.2l15.2 15.2m-15.2 0l15.2 -15.2"/><path d="M928.0 717.9l15.2 15.2m-15.2 0l15.2 -15.2"/><path d="M928.0 718.7l15.2 15.2m-15.2 0l15.2 -15.2"/><path d="M928.0 719.4l15.2 15.2m-15.2 0l15.2 -15.2"/><path d="M928.0 720.1l15.2 15.2m-15.2 0l15.2 -15.2"/><path d="M928.0 720.8l15.2 15.2m-15.2 0l15.2 -15.2"/><path d="M928.0 721.6l15.2 15.2m-15.2 0l15.2 -15.2"/><path d="M928.0 722.3l15.2 15.2m-15.2 0l15.2 -15.2"/><path class="t" d="M928.0 726.8l15.2 15.2m-15.2 0l15.2 -15.2"/><path class="t" d="M928.0 729.2l15.2 15.2m-15.2 0l15.2 -15.2"/></g>
<path d="M740.13 720.47V917.5M738.53 722.07H1000.7" fill="none" stroke="#ff3b3b" stroke-width="1.8" stroke-dasharray="3.2 2.85"/>
<text class="tl" x="582.1" y="593.9" textLength="244.8">3 Factors &amp; 18 Items</text>
<line x1="88.7" y1="5.5" x2="88.7" y2="918.5" stroke="#000" stroke-width="1.9"/>
<line x1="544.7" y1="5.5" x2="544.7" y2="918.5" stroke="#000" stroke-width="1.9"/>
<line x1="88.7" y1="461.5" x2="1000.7" y2="461.5" stroke="#000" stroke-width="2.3"/>
<line x1="88.7" y1="917.5" x2="1000.7" y2="917.5" stroke="#555" stroke-width="2.0"/>
<line x1="83.7" y1="461.5" x2="88.7" y2="461.5" stroke="#000" stroke-width="1.5"/>
<text class="tk" text-anchor="middle" transform="translate(67.2,461.5) rotate(-90)">0</text>
<line x1="83.7" y1="396.4" x2="88.7" y2="396.4" stroke="#000" stroke-width="1.5"/>
<line x1="83.7" y1="331.2" x2="88.7" y2="331.2" stroke="#000" stroke-width="1.5"/>
<text class="tk" text-anchor="middle" transform="translate(67.2,331.2) rotate(-90)">0.04</text>
<line x1="83.7" y1="266.1" x2="88.7" y2="266.1" stroke="#000" stroke-width="1.5"/>
<line x1="83.7" y1="200.9" x2="88.7" y2="200.9" stroke="#000" stroke-width="1.5"/>
<text class="tk" text-anchor="middle" transform="translate(67.2,200.9) rotate(-90)">0.08</text>
<line x1="83.7" y1="135.8" x2="88.7" y2="135.8" stroke="#000" stroke-width="1.5"/>
<line x1="83.7" y1="70.6" x2="88.7" y2="70.6" stroke="#000" stroke-width="1.5"/>
<text class="tk" text-anchor="middle" transform="translate(67.2,70.6) rotate(-90)">0.12</text>
<text class="lb" text-anchor="middle" transform="translate(20.9,233.5) rotate(-90)">DWLS-RMSEA<tspan font-size="19" dy="4">S</tspan></text>
<line x1="83.7" y1="917.5" x2="88.7" y2="917.5" stroke="#000" stroke-width="1.5"/>
<text class="tk" text-anchor="middle" transform="translate(67.2,917.5) rotate(-90)">0</text>
<line x1="83.7" y1="852.4" x2="88.7" y2="852.4" stroke="#000" stroke-width="1.5"/>
<line x1="83.7" y1="787.2" x2="88.7" y2="787.2" stroke="#000" stroke-width="1.5"/>
<text class="tk" text-anchor="middle" transform="translate(67.2,787.2) rotate(-90)">0.04</text>
<line x1="83.7" y1="722.1" x2="88.7" y2="722.1" stroke="#000" stroke-width="1.5"/>
<line x1="83.7" y1="656.9" x2="88.7" y2="656.9" stroke="#000" stroke-width="1.5"/>
<text class="tk" text-anchor="middle" transform="translate(67.2,656.9) rotate(-90)">0.08</text>
<line x1="83.7" y1="591.8" x2="88.7" y2="591.8" stroke="#000" stroke-width="1.5"/>
<line x1="83.7" y1="526.6" x2="88.7" y2="526.6" stroke="#000" stroke-width="1.5"/>
<text class="tk" text-anchor="middle" transform="translate(67.2,526.6) rotate(-90)">0.12</text>
<text class="lb" text-anchor="middle" transform="translate(20.9,689.5) rotate(-90)">DWLS-RMSEA<tspan font-size="19" dy="4">S</tspan></text>
<line x1="88.7" y1="917.5" x2="88.7" y2="922.5" stroke="#555" stroke-width="1.6"/>
<text class="tk" text-anchor="middle" x="88.7" y="945.5">0</text>
<line x1="153.8" y1="917.5" x2="153.8" y2="922.5" stroke="#555" stroke-width="1.6"/>
<line x1="219.0" y1="917.5" x2="219.0" y2="922.5" stroke="#555" stroke-width="1.6"/>
<text class="tk" text-anchor="middle" x="219.0" y="945.5">0.04</text>
<line x1="284.1" y1="917.5" x2="284.1" y2="922.5" stroke="#555" stroke-width="1.6"/>
<line x1="349.3" y1="917.5" x2="349.3" y2="922.5" stroke="#555" stroke-width="1.6"/>
<text class="tk" text-anchor="middle" x="349.3" y="945.5">0.08</text>
<line x1="414.4" y1="917.5" x2="414.4" y2="922.5" stroke="#555" stroke-width="1.6"/>
<line x1="479.6" y1="917.5" x2="479.6" y2="922.5" stroke="#555" stroke-width="1.6"/>
<text class="tk" text-anchor="middle" x="479.6" y="945.5">0.12</text>
<text class="lb" text-anchor="middle" x="316.7" y="983.5">ML-RMSEA<tspan font-size="19" dy="4">U</tspan></text>
<line x1="544.7" y1="917.5" x2="544.7" y2="922.5" stroke="#555" stroke-width="1.6"/>
<text class="tk" text-anchor="middle" x="544.7" y="945.5">0</text>
<line x1="609.8" y1="917.5" x2="609.8" y2="922.5" stroke="#555" stroke-width="1.6"/>
<line x1="675.0" y1="917.5" x2="675.0" y2="922.5" stroke="#555" stroke-width="1.6"/>
<text class="tk" text-anchor="middle" x="675.0" y="945.5">0.04</text>
<line x1="740.1" y1="917.5" x2="740.1" y2="922.5" stroke="#555" stroke-width="1.6"/>
<line x1="805.3" y1="917.5" x2="805.3" y2="922.5" stroke="#555" stroke-width="1.6"/>
<text class="tk" text-anchor="middle" x="805.3" y="945.5">0.08</text>
<line x1="870.4" y1="917.5" x2="870.4" y2="922.5" stroke="#555" stroke-width="1.6"/>
<line x1="935.6" y1="917.5" x2="935.6" y2="922.5" stroke="#555" stroke-width="1.6"/>
<text class="tk" text-anchor="middle" x="935.6" y="945.5">0.12</text>
<text class="lb" text-anchor="middle" x="772.7" y="983.5">ML-RMSEA<tspan font-size="19" dy="4">U</tspan></text>
<line x1="1135.4" y1="459.9" x2="1592.7" y2="2.6" stroke="#bdbdbd" stroke-width="1.0"/>
<g class="pt"><circle cx="1200.80" cy="410.52" r="7.7"/><circle cx="1200.89" cy="418.98" r="7.7"/><circle cx="1200.79" cy="411.11" r="7.7"/><circle cx="1200.62" cy="411.99" r="7.7"/><circle cx="1200.53" cy="412.42" r="7.7"/><circle cx="1200.53" cy="413.67" r="7.7"/><circle cx="1200.86" cy="414.54" r="7.7"/><circle cx="1200.58" cy="415.40" r="7.7"/><circle cx="1200.64" cy="415.82" r="7.7"/><circle cx="1200.69" cy="416.71" r="7.7"/><circle cx="1200.49" cy="417.51" r="7.7"/><circle cx="1200.61" cy="418.32" r="7.7"/><circle cx="1200.62" cy="417.69" r="7.7"/><circle cx="1200.84" cy="417.39" r="7.7"/><circle cx="1265.81" cy="363.93" r="7.7"/><circle cx="1265.91" cy="376.07" r="7.7"/><circle cx="1266.19" cy="364.27" r="7.7"/><circle cx="1266.30" cy="365.05" r="7.7"/><circle cx="1265.81" cy="366.18" r="7.7"/><circle cx="1266.05" cy="366.76" r="7.7"/><circle cx="1266.05" cy="367.74" r="7.7"/><circle cx="1266.21" cy="368.44" r="7.7"/><circle cx="1265.90" cy="368.96" r="7.7"/><circle cx="1266.05" cy="369.96" r="7.7"/><circle cx="1265.98" cy="370.78" r="7.7"/><circle cx="1266.22" cy="371.75" r="7.7"/><circle cx="1265.94" cy="372.36" r="7.7"/><circle cx="1266.28" cy="373.34" r="7.7"/><circle cx="1265.95" cy="374.07" r="7.7"/><circle cx="1265.91" cy="374.72" r="7.7"/><circle cx="1266.16" cy="375.85" r="7.7"/><circle cx="1266.06" cy="365.03" r="7.7"/><circle cx="1265.86" cy="373.89" r="7.7"/><circle cx="1266.13" cy="366.00" r="7.7"/><circle cx="1331.40" cy="321.02" r="7.7"/><circle cx="1331.51" cy="333.88" r="7.7"/><circle cx="1331.51" cy="321.22" r="7.7"/><circle cx="1331.46" cy="322.37" r="7.7"/><circle cx="1331.31" cy="323.13" r="7.7"/><circle cx="1331.30" cy="323.97" r="7.7"/><circle cx="1331.21" cy="324.70" r="7.7"/><circle cx="1331.56" cy="325.37" r="7.7"/><circle cx="1331.47" cy="326.20" r="7.7"/><circle cx="1331.51" cy="327.00" r="7.7"/><circle cx="1331.22" cy="328.04" r="7.7"/><circle cx="1331.36" cy="328.46" r="7.7"/><circle cx="1331.52" cy="329.64" r="7.7"/><circle cx="1331.43" cy="330.03" r="7.7"/><circle cx="1331.20" cy="330.92" r="7.7"/><circle cx="1331.37" cy="331.75" r="7.7"/><circle cx="1331.58" cy="332.86" r="7.7"/><circle cx="1331.25" cy="333.47" r="7.7"/><circle cx="1331.23" cy="325.90" r="7.7"/><circle cx="1331.29" cy="332.38" r="7.7"/><circle cx="1331.49" cy="324.03" r="7.7"/><circle cx="1331.56" cy="326.95" r="7.7"/><circle cx="1461.86" cy="233.32" r="7.7"/><circle cx="1462.09" cy="252.98" r="7.7"/><circle cx="1462.00" cy="233.56" r="7.7"/><circle cx="1462.16" cy="234.38" r="7.7"/><circle cx="1462.25" cy="235.25" r="7.7"/><circle cx="1462.01" cy="236.11" r="7.7"/><circle cx="1462.08" cy="237.02" r="7.7"/><circle cx="1462.17" cy="237.66" r="7.7"/><circle cx="1462.00" cy="238.56" r="7.7"/><circle cx="1461.91" cy="239.31" r="7.7"/><circle cx="1462.15" cy="240.52" r="7.7"/><circle cx="1462.23" cy="241.22" r="7.7"/><circle cx="1462.18" cy="241.73" r="7.7"/><circle cx="1462.14" cy="242.97" r="7.7"/><circle cx="1462.22" cy="243.36" r="7.7"/><circle cx="1462.13" cy="244.32" r="7.7"/><circle cx="1462.11" cy="245.43" r="7.7"/><circle cx="1462.02" cy="246.16" r="7.7"/><circle cx="1461.95" cy="246.95" r="7.7"/><circle cx="1462.11" cy="247.62" r="7.7"/><circle cx="1461.84" cy="248.32" r="7.7"/><circle cx="1462.00" cy="249.36" r="7.7"/><circle cx="1462.18" cy="249.92" r="7.7"/><circle cx="1462.15" cy="250.78" r="7.7"/><circle cx="1462.11" cy="251.69" r="7.7"/><circle cx="1461.92" cy="252.34" r="7.7"/><circle cx="1462.00" cy="241.17" r="7.7"/><circle cx="1462.02" cy="248.87" r="7.7"/><circle cx="1462.10" cy="246.95" r="7.7"/><circle cx="1462.00" cy="243.16" r="7.7"/><circle cx="1462.13" cy="245.75" r="7.7"/><circle cx="1462.26" cy="242.43" r="7.7"/><circle cx="1462.0" cy="254.98" r="7.7" class="t"/><circle cx="1462.0" cy="257.33" r="7.7" class="t"/><circle cx="1462.0" cy="260.86" r="7.7" class="t"/><circle cx="1462.0" cy="262.38" r="7.7" class="t"/><circle cx="1527.52" cy="194.12" r="7.7"/><circle cx="1527.32" cy="220.38" r="7.7"/><circle cx="1527.23" cy="194.48" r="7.7"/><circle cx="1527.19" cy="195.35" r="7.7"/><circle cx="1527.51" cy="196.41" r="7.7"/><circle cx="1527.53" cy="196.77" r="7.7"/><circle cx="1527.44" cy="197.84" r="7.7"/><circle cx="1527.36" cy="198.47" r="7.7"/><circle cx="1527.40" cy="199.60" r="7.7"/><circle cx="1527.23" cy="200.49" r="7.7"/><circle cx="1527.60" cy="201.11" r="7.7"/><circle cx="1527.30" cy="201.72" r="7.7"/><circle cx="1527.44" cy="202.77" r="7.7"/><circle cx="1527.53" cy="203.58" r="7.7"/><circle cx="1527.53" cy="204.49" r="7.7"/><circle cx="1527.36" cy="205.21" r="7.7"/><circle cx="1527.27" cy="206.09" r="7.7"/><circle cx="1527.40" cy="207.00" r="7.7"/><circle cx="1527.18" cy="207.67" r="7.7"/><circle cx="1527.54" cy="208.44" r="7.7"/><circle cx="1527.30" cy="209.52" r="7.7"/><circle cx="1527.55" cy="209.98" r="7.7"/><circle cx="1527.26" cy="211.03" r="7.7"/><circle cx="1527.31" cy="211.71" r="7.7"/><circle cx="1527.25" cy="212.71" r="7.7"/><circle cx="1527.33" cy="213.22" r="7.7"/><circle cx="1527.21" cy="214.46" r="7.7"/><circle cx="1527.12" cy="214.97" r="7.7"/><circle cx="1527.48" cy="215.65" r="7.7"/><circle cx="1527.26" cy="216.57" r="7.7"/><circle cx="1527.24" cy="217.45" r="7.7"/><circle cx="1527.27" cy="218.08" r="7.7"/><circle cx="1527.36" cy="219.10" r="7.7"/><circle cx="1527.34" cy="219.93" r="7.7"/><circle cx="1527.44" cy="212.45" r="7.7"/><circle cx="1527.45" cy="203.37" r="7.7"/><circle cx="1527.30" cy="201.09" r="7.7"/><circle cx="1527.59" cy="200.02" r="7.7"/><circle cx="1527.55" cy="213.59" r="7.7"/><circle cx="1527.15" cy="218.80" r="7.7"/><circle cx="1527.54" cy="207.96" r="7.7"/><circle cx="1527.57" cy="199.87" r="7.7"/><circle cx="1527.4" cy="192.12" r="7.7" class="t"/><circle cx="1527.4" cy="189.82" r="7.7" class="t"/><circle cx="1527.4" cy="222.38" r="7.7" class="t"/><circle cx="1527.4" cy="224.69" r="7.7" class="t"/></g>
<g class="bx"><path d="M1389.1 269.7l15.2 15.2m-15.2 0l15.2 -15.2"/><path d="M1389.1 270.4l15.2 15.2m-15.2 0l15.2 -15.2"/><path d="M1389.1 271.1l15.2 15.2m-15.2 0l15.2 -15.2"/><path d="M1389.1 271.8l15.2 15.2m-15.2 0l15.2 -15.2"/><path d="M1389.1 272.5l15.2 15.2m-15.2 0l15.2 -15.2"/><path d="M1389.1 273.2l15.2 15.2m-15.2 0l15.2 -15.2"/><path d="M1389.1 274.0l15.2 15.2m-15.2 0l15.2 -15.2"/><path d="M1389.1 274.7l15.2 15.2m-15.2 0l15.2 -15.2"/><path d="M1389.1 275.4l15.2 15.2m-15.2 0l15.2 -15.2"/><path d="M1389.1 276.1l15.2 15.2m-15.2 0l15.2 -15.2"/><path d="M1389.1 276.8l15.2 15.2m-15.2 0l15.2 -15.2"/><path d="M1389.1 277.5l15.2 15.2m-15.2 0l15.2 -15.2"/><path d="M1389.1 278.2l15.2 15.2m-15.2 0l15.2 -15.2"/><path d="M1389.1 278.9l15.2 15.2m-15.2 0l15.2 -15.2"/><path d="M1389.1 279.6l15.2 15.2m-15.2 0l15.2 -15.2"/><path d="M1389.1 280.3l15.2 15.2m-15.2 0l15.2 -15.2"/><path d="M1389.1 281.0l15.2 15.2m-15.2 0l15.2 -15.2"/><path d="M1389.1 281.7l15.2 15.2m-15.2 0l15.2 -15.2"/><path d="M1389.1 282.5l15.2 15.2m-15.2 0l15.2 -15.2"/><path d="M1389.1 283.2l15.2 15.2m-15.2 0l15.2 -15.2"/><path d="M1389.1 283.9l15.2 15.2m-15.2 0l15.2 -15.2"/><path d="M1389.1 284.6l15.2 15.2m-15.2 0l15.2 -15.2"/><path d="M1389.1 285.3l15.2 15.2m-15.2 0l15.2 -15.2"/><path d="M1389.1 286.0l15.2 15.2m-15.2 0l15.2 -15.2"/><path class="t" d="M1389.1 265.9l15.2 15.2m-15.2 0l15.2 -15.2"/><path class="t" d="M1389.1 291.9l15.2 15.2m-15.2 0l15.2 -15.2"/></g>
<path d="M1331.39 262.51V459.9M1329.99 263.91H1592.7" fill="none" stroke="#ff0000" stroke-width="2.6" stroke-dasharray="2.8 3.3"/>
<text class="tl" x="1174.1" y="135.8" textLength="216.8">1 Factor &amp; 9 Items</text>
<line x1="1592.7" y1="459.9" x2="2050.0" y2="2.6" stroke="#111" stroke-width="1.0"/>
<g class="pt"><circle cx="1658.25" cy="413.93" r="7.7"/><circle cx="1658.11" cy="416.78" r="7.7"/><circle cx="1657.90" cy="414.48" r="7.7"/><circle cx="1657.83" cy="415.07" r="7.7"/><circle cx="1657.85" cy="416.02" r="7.7"/><circle cx="1723.41" cy="367.62" r="7.7"/><circle cx="1723.50" cy="373.28" r="7.7"/><circle cx="1723.44" cy="367.90" r="7.7"/><circle cx="1723.55" cy="368.97" r="7.7"/><circle cx="1723.50" cy="369.57" r="7.7"/><circle cx="1723.53" cy="370.28" r="7.7"/><circle cx="1723.21" cy="371.45" r="7.7"/><circle cx="1723.45" cy="372.21" r="7.7"/><circle cx="1723.37" cy="372.71" r="7.7"/><circle cx="1723.48" cy="372.66" r="7.7"/><circle cx="1788.87" cy="327.22" r="7.7"/><circle cx="1788.44" cy="336.07" r="7.7"/><circle cx="1788.86" cy="327.60" r="7.7"/><circle cx="1788.67" cy="328.62" r="7.7"/><circle cx="1788.72" cy="329.26" r="7.7"/><circle cx="1788.77" cy="329.93" r="7.7"/><circle cx="1788.86" cy="330.72" r="7.7"/><circle cx="1788.62" cy="331.48" r="7.7"/><circle cx="1788.65" cy="332.45" r="7.7"/><circle cx="1788.92" cy="333.05" r="7.7"/><circle cx="1788.47" cy="334.05" r="7.7"/><circle cx="1788.75" cy="334.70" r="7.7"/><circle cx="1788.75" cy="335.67" r="7.7"/><circle cx="1788.45" cy="331.63" r="7.7"/><circle cx="1788.74" cy="332.00" r="7.7"/><circle cx="1919.51" cy="248.32" r="7.7"/><circle cx="1919.24" cy="261.68" r="7.7"/><circle cx="1919.51" cy="248.83" r="7.7"/><circle cx="1919.29" cy="249.79" r="7.7"/><circle cx="1919.34" cy="250.33" r="7.7"/><circle cx="1919.23" cy="251.49" r="7.7"/><circle cx="1919.35" cy="252.09" r="7.7"/><circle cx="1919.58" cy="252.91" r="7.7"/><circle cx="1919.42" cy="253.95" r="7.7"/><circle cx="1919.49" cy="254.35" r="7.7"/><circle cx="1919.26" cy="255.53" r="7.7"/><circle cx="1919.25" cy="256.31" r="7.7"/><circle cx="1919.24" cy="257.01" r="7.7"/><circle cx="1919.39" cy="258.10" r="7.7"/><circle cx="1919.41" cy="258.69" r="7.7"/><circle cx="1919.48" cy="259.58" r="7.7"/><circle cx="1919.11" cy="260.44" r="7.7"/><circle cx="1919.45" cy="261.39" r="7.7"/><circle cx="1919.54" cy="251.14" r="7.7"/><circle cx="1919.37" cy="254.13" r="7.7"/><circle cx="1919.12" cy="253.96" r="7.7"/><circle cx="1919.24" cy="255.72" r="7.7"/><circle cx="1919.3" cy="246.32" r="7.7" class="t"/><circle cx="1919.3" cy="244.11" r="7.7" class="t"/><circle cx="1919.3" cy="263.68" r="7.7" class="t"/><circle cx="1984.83" cy="221.32" r="7.7"/><circle cx="1984.81" cy="235.28" r="7.7"/><circle cx="1984.70" cy="221.79" r="7.7"/><circle cx="1984.55" cy="222.63" r="7.7"/><circle cx="1984.57" cy="223.52" r="7.7"/><circle cx="1984.63" cy="224.40" r="7.7"/><circle cx="1984.58" cy="225.07" r="7.7"/><circle cx="1984.64" cy="225.90" r="7.7"/><circle cx="1984.74" cy="226.72" r="7.7"/><circle cx="1984.89" cy="227.58" r="7.7"/><circle cx="1984.45" cy="228.35" r="7.7"/><circle cx="1984.71" cy="229.21" r="7.7"/><circle cx="1984.44" cy="229.80" r="7.7"/><circle cx="1984.48" cy="230.84" r="7.7"/><circle cx="1984.83" cy="231.56" r="7.7"/><circle cx="1984.71" cy="232.53" r="7.7"/><circle cx="1984.88" cy="233.03" r="7.7"/><circle cx="1984.64" cy="233.89" r="7.7"/><circle cx="1984.43" cy="234.64" r="7.7"/><circle cx="1984.61" cy="232.13" r="7.7"/><circle cx="1984.72" cy="234.08" r="7.7"/><circle cx="1984.89" cy="230.47" r="7.7"/><circle cx="1984.91" cy="226.47" r="7.7"/><circle cx="1984.7" cy="219.32" r="7.7" class="t"/><circle cx="1984.7" cy="237.28" r="7.7" class="t"/><circle cx="1984.7" cy="239.81" r="7.7" class="t"/><circle cx="1984.7" cy="242.78" r="7.7" class="t"/><circle cx="1984.7" cy="245.88" r="7.7" class="t"/></g>
<g class="bx"><path d="M1846.4 278.1l15.2 15.2m-15.2 0l15.2 -15.2"/><path d="M1846.4 278.8l15.2 15.2m-15.2 0l15.2 -15.2"/><path d="M1846.4 279.5l15.2 15.2m-15.2 0l15.2 -15.2"/><path d="M1846.4 280.2l15.2 15.2m-15.2 0l15.2 -15.2"/><path d="M1846.4 280.9l15.2 15.2m-15.2 0l15.2 -15.2"/><path d="M1846.4 281.6l15.2 15.2m-15.2 0l15.2 -15.2"/><path d="M1846.4 282.3l15.2 15.2m-15.2 0l15.2 -15.2"/><path d="M1846.4 283.0l15.2 15.2m-15.2 0l15.2 -15.2"/><path d="M1846.4 283.8l15.2 15.2m-15.2 0l15.2 -15.2"/><path d="M1846.4 284.5l15.2 15.2m-15.2 0l15.2 -15.2"/><path d="M1846.4 285.2l15.2 15.2m-15.2 0l15.2 -15.2"/><path d="M1846.4 285.9l15.2 15.2m-15.2 0l15.2 -15.2"/><path d="M1846.4 286.6l15.2 15.2m-15.2 0l15.2 -15.2"/><path d="M1846.4 287.3l15.2 15.2m-15.2 0l15.2 -15.2"/><path d="M1846.4 288.0l15.2 15.2m-15.2 0l15.2 -15.2"/><path d="M1846.4 288.7l15.2 15.2m-15.2 0l15.2 -15.2"/><path class="t" d="M1846.4 274.0l15.2 15.2m-15.2 0l15.2 -15.2"/><path class="t" d="M1846.4 293.3l15.2 15.2m-15.2 0l15.2 -15.2"/><path d="M1911.7 258.5l15.2 15.2m-15.2 0l15.2 -15.2"/><path d="M1911.7 260.4l15.2 15.2m-15.2 0l15.2 -15.2"/><path d="M1911.7 261.3l15.2 15.2m-15.2 0l15.2 -15.2"/></g>
<path d="M1788.69 262.51V459.9M1787.29 263.91H2050.0" fill="none" stroke="#ff0000" stroke-width="2.6" stroke-dasharray="2.8 3.3"/>
<text class="tl" x="1631.9" y="135.8" textLength="230.9">1 Factor &amp; 18 Items</text>
<line x1="1135.4" y1="917.2" x2="1592.7" y2="459.9" stroke="#111" stroke-width="1.0"/>
<g class="pt"><circle cx="1200.83" cy="871.03" r="7.7"/><circle cx="1200.71" cy="885.47" r="7.7"/><circle cx="1200.94" cy="871.29" r="7.7"/><circle cx="1200.61" cy="872.06" r="7.7"/><circle cx="1200.96" cy="872.80" r="7.7"/><circle cx="1200.84" cy="873.60" r="7.7"/><circle cx="1200.48" cy="874.73" r="7.7"/><circle cx="1200.49" cy="875.26" r="7.7"/><circle cx="1200.80" cy="876.47" r="7.7"/><circle cx="1200.89" cy="876.85" r="7.7"/><circle cx="1200.52" cy="878.03" r="7.7"/><circle cx="1200.63" cy="878.47" r="7.7"/><circle cx="1200.84" cy="879.22" r="7.7"/><circle cx="1200.56" cy="880.36" r="7.7"/><circle cx="1200.91" cy="880.94" r="7.7"/><circle cx="1200.72" cy="881.97" r="7.7"/><circle cx="1200.51" cy="882.51" r="7.7"/><circle cx="1200.66" cy="883.25" r="7.7"/><circle cx="1200.77" cy="884.40" r="7.7"/><circle cx="1200.70" cy="885.18" r="7.7"/><circle cx="1200.82" cy="883.39" r="7.7"/><circle cx="1200.55" cy="881.57" r="7.7"/><circle cx="1200.88" cy="872.24" r="7.7"/><circle cx="1200.66" cy="880.11" r="7.7"/><circle cx="1266.24" cy="827.23" r="7.7"/><circle cx="1266.09" cy="850.67" r="7.7"/><circle cx="1265.94" cy="827.70" r="7.7"/><circle cx="1266.23" cy="828.50" r="7.7"/><circle cx="1266.21" cy="829.21" r="7.7"/><circle cx="1266.15" cy="830.00" r="7.7"/><circle cx="1266.26" cy="831.00" r="7.7"/><circle cx="1265.98" cy="831.89" r="7.7"/><circle cx="1265.85" cy="832.62" r="7.7"/><circle cx="1266.08" cy="833.32" r="7.7"/><circle cx="1266.21" cy="834.00" r="7.7"/><circle cx="1265.91" cy="834.69" r="7.7"/><circle cx="1266.18" cy="835.95" r="7.7"/><circle cx="1266.27" cy="836.62" r="7.7"/><circle cx="1265.92" cy="837.49" r="7.7"/><circle cx="1266.11" cy="838.06" r="7.7"/><circle cx="1266.15" cy="839.00" r="7.7"/><circle cx="1266.04" cy="839.99" r="7.7"/><circle cx="1265.91" cy="840.73" r="7.7"/><circle cx="1265.93" cy="841.42" r="7.7"/><circle cx="1266.18" cy="842.09" r="7.7"/><circle cx="1266.20" cy="842.96" r="7.7"/><circle cx="1266.04" cy="843.99" r="7.7"/><circle cx="1265.85" cy="844.55" r="7.7"/><circle cx="1266.21" cy="845.51" r="7.7"/><circle cx="1266.19" cy="846.28" r="7.7"/><circle cx="1265.92" cy="847.23" r="7.7"/><circle cx="1266.10" cy="847.99" r="7.7"/><circle cx="1266.26" cy="848.55" r="7.7"/><circle cx="1266.25" cy="849.22" r="7.7"/><circle cx="1266.07" cy="850.16" r="7.7"/><circle cx="1266.05" cy="837.13" r="7.7"/><circle cx="1266.10" cy="840.98" r="7.7"/><circle cx="1265.90" cy="846.36" r="7.7"/><circle cx="1265.90" cy="848.04" r="7.7"/><circle cx="1265.90" cy="828.22" r="7.7"/><circle cx="1266.16" cy="846.76" r="7.7"/><circle cx="1265.99" cy="846.26" r="7.7"/><circle cx="1266.1" cy="825.23" r="7.7" class="t"/><circle cx="1266.1" cy="822.57" r="7.7" class="t"/><circle cx="1266.1" cy="821.23" r="7.7" class="t"/><circle cx="1331.63" cy="786.33" r="7.7"/><circle cx="1331.25" cy="818.38" r="7.7"/><circle cx="1331.16" cy="786.73" r="7.7"/><circle cx="1331.26" cy="787.36" r="7.7"/><circle cx="1331.31" cy="788.11" r="7.7"/><circle cx="1331.59" cy="789.37" r="7.7"/><circle cx="1331.59" cy="789.87" r="7.7"/><circle cx="1331.55" cy="790.54" r="7.7"/><circle cx="1331.16" cy="791.60" r="7.7"/><circle cx="1331.53" cy="792.47" r="7.7"/><circle cx="1331.49" cy="792.97" r="7.7"/><circle cx="1331.46" cy="793.98" r="7.7"/><circle cx="1331.63" cy="794.66" r="7.7"/><circle cx="1331.16" cy="795.55" r="7.7"/><circle cx="1331.21" cy="796.11" r="7.7"/><circle cx="1331.51" cy="796.92" r="7.7"/><circle cx="1331.61" cy="798.18" r="7.7"/><circle cx="1331.47" cy="798.92" r="7.7"/><circle cx="1331.29" cy="799.54" r="7.7"/><circle cx="1331.43" cy="800.38" r="7.7"/><circle cx="1331.51" cy="801.03" r="7.7"/><circle cx="1331.19" cy="802.08" r="7.7"/><circle cx="1331.30" cy="802.72" r="7.7"/><circle cx="1331.26" cy="803.77" r="7.7"/><circle cx="1331.20" cy="804.48" r="7.7"/><circle cx="1331.38" cy="805.31" r="7.7"/><circle cx="1331.22" cy="806.18" r="7.7"/><circle cx="1331.25" cy="806.64" r="7.7"/><circle cx="1331.21" cy="807.34" r="7.7"/><circle cx="1331.47" cy="808.22" r="7.7"/><circle cx="1331.14" cy="809.01" r="7.7"/><circle cx="1331.49" cy="809.76" r="7.7"/><circle cx="1331.23" cy="810.55" r="7.7"/><circle cx="1331.15" cy="811.59" r="7.7"/><circle cx="1331.60" cy="812.54" r="7.7"/><circle cx="1331.25" cy="813.15" r="7.7"/><circle cx="1331.60" cy="814.18" r="7.7"/><circle cx="1331.57" cy="814.97" r="7.7"/><circle cx="1331.58" cy="815.36" r="7.7"/><circle cx="1331.21" cy="816.42" r="7.7"/><circle cx="1331.36" cy="817.12" r="7.7"/><circle cx="1331.18" cy="817.79" r="7.7"/><circle cx="1331.60" cy="817.07" r="7.7"/><circle cx="1331.56" cy="794.57" r="7.7"/><circle cx="1331.45" cy="804.42" r="7.7"/><circle cx="1331.36" cy="806.86" r="7.7"/><circle cx="1331.31" cy="816.98" r="7.7"/><circle cx="1331.55" cy="807.79" r="7.7"/><circle cx="1331.37" cy="798.92" r="7.7"/><circle cx="1331.45" cy="800.69" r="7.7"/><circle cx="1331.21" cy="791.44" r="7.7"/><circle cx="1331.25" cy="817.28" r="7.7"/><circle cx="1331.4" cy="784.33" r="7.7" class="t"/><circle cx="1331.4" cy="770.10" r="7.7" class="t"/><circle cx="1461.93" cy="713.33" r="7.7"/><circle cx="1462.21" cy="718.67" r="7.7"/><circle cx="1461.96" cy="713.89" r="7.7"/><circle cx="1461.88" cy="714.69" r="7.7"/><circle cx="1462.04" cy="715.36" r="7.7"/><circle cx="1461.95" cy="716.64" r="7.7"/><circle cx="1462.24" cy="717.21" r="7.7"/><circle cx="1461.85" cy="718.18" r="7.7"/><circle cx="1462.28" cy="714.16" r="7.7"/><circle cx="1462.0" cy="711.33" r="7.7" class="t"/><circle cx="1462.0" cy="709.07" r="7.7" class="t"/><circle cx="1462.0" cy="705.29" r="7.7" class="t"/><circle cx="1462.0" cy="700.67" r="7.7" class="t"/><circle cx="1462.0" cy="696.33" r="7.7" class="t"/><circle cx="1527.33" cy="687.23" r="7.7"/><circle cx="1527.48" cy="716.67" r="7.7"/><circle cx="1527.15" cy="687.62" r="7.7"/><circle cx="1527.53" cy="688.35" r="7.7"/><circle cx="1527.29" cy="689.15" r="7.7"/><circle cx="1527.54" cy="689.94" r="7.7"/><circle cx="1527.55" cy="690.84" r="7.7"/><circle cx="1527.37" cy="691.97" r="7.7"/><circle cx="1527.13" cy="692.79" r="7.7"/><circle cx="1527.58" cy="693.57" r="7.7"/><circle cx="1527.36" cy="693.98" r="7.7"/><circle cx="1527.56" cy="694.89" r="7.7"/><circle cx="1527.25" cy="696.01" r="7.7"/><circle cx="1527.21" cy="696.42" r="7.7"/><circle cx="1527.54" cy="697.56" r="7.7"/><circle cx="1527.30" cy="698.17" r="7.7"/><circle cx="1527.20" cy="699.32" r="7.7"/><circle cx="1527.31" cy="699.67" r="7.7"/><circle cx="1527.42" cy="700.87" r="7.7"/><circle cx="1527.12" cy="701.46" r="7.7"/><circle cx="1527.38" cy="702.18" r="7.7"/><circle cx="1527.34" cy="702.93" r="7.7"/><circle cx="1527.38" cy="704.16" r="7.7"/><circle cx="1527.18" cy="704.83" r="7.7"/><circle cx="1527.48" cy="705.48" r="7.7"/><circle cx="1527.53" cy="706.42" r="7.7"/><circle cx="1527.55" cy="707.47" r="7.7"/><circle cx="1527.28" cy="707.95" r="7.7"/><circle cx="1527.48" cy="708.94" r="7.7"/><circle cx="1527.31" cy="709.54" r="7.7"/><circle cx="1527.50" cy="710.38" r="7.7"/><circle cx="1527.15" cy="711.49" r="7.7"/><circle cx="1527.56" cy="712.28" r="7.7"/><circle cx="1527.60" cy="712.84" r="7.7"/><circle cx="1527.37" cy="713.61" r="7.7"/><circle cx="1527.38" cy="714.43" r="7.7"/><circle cx="1527.39" cy="715.50" r="7.7"/><circle cx="1527.39" cy="716.26" r="7.7"/><circle cx="1527.13" cy="695.29" r="7.7"/><circle cx="1527.61" cy="693.29" r="7.7"/><circle cx="1527.23" cy="705.26" r="7.7"/><circle cx="1527.21" cy="708.07" r="7.7"/><circle cx="1527.17" cy="711.13" r="7.7"/><circle cx="1527.25" cy="704.39" r="7.7"/><circle cx="1527.53" cy="693.18" r="7.7"/><circle cx="1527.14" cy="689.16" r="7.7"/><circle cx="1527.17" cy="708.80" r="7.7"/><circle cx="1527.4" cy="685.23" r="7.7" class="t"/><circle cx="1527.4" cy="682.47" r="7.7" class="t"/><circle cx="1527.4" cy="679.40" r="7.7" class="t"/><circle cx="1527.4" cy="675.64" r="7.7" class="t"/><circle cx="1527.4" cy="669.76" r="7.7" class="t"/><circle cx="1527.4" cy="662.16" r="7.7" class="t"/><circle cx="1527.4" cy="653.93" r="7.7" class="t"/><circle cx="1527.4" cy="718.67" r="7.7" class="t"/><circle cx="1527.4" cy="632.80" r="7.7" class="t"/></g>
<g class="bx"><path d="M1389.1 746.5l15.2 15.2m-15.2 0l15.2 -15.2"/><path d="M1389.1 747.2l15.2 15.2m-15.2 0l15.2 -15.2"/><path d="M1389.1 747.9l15.2 15.2m-15.2 0l15.2 -15.2"/><path d="M1389.1 748.6l15.2 15.2m-15.2 0l15.2 -15.2"/><path d="M1389.1 749.3l15.2 15.2m-15.2 0l15.2 -15.2"/><path d="M1389.1 750.0l15.2 15.2m-15.2 0l15.2 -15.2"/><path d="M1389.1 750.7l15.2 15.2m-15.2 0l15.2 -15.2"/><path d="M1389.1 751.5l15.2 15.2m-15.2 0l15.2 -15.2"/><path d="M1389.1 752.2l15.2 15.2m-15.2 0l15.2 -15.2"/><path d="M1389.1 752.9l15.2 15.2m-15.2 0l15.2 -15.2"/><path d="M1389.1 753.6l15.2 15.2m-15.2 0l15.2 -15.2"/><path d="M1389.1 754.3l15.2 15.2m-15.2 0l15.2 -15.2"/><path d="M1389.1 755.0l15.2 15.2m-15.2 0l15.2 -15.2"/><path d="M1389.1 755.7l15.2 15.2m-15.2 0l15.2 -15.2"/><path d="M1389.1 756.4l15.2 15.2m-15.2 0l15.2 -15.2"/><path d="M1389.1 757.1l15.2 15.2m-15.2 0l15.2 -15.2"/><path d="M1389.1 757.8l15.2 15.2m-15.2 0l15.2 -15.2"/><path d="M1389.1 758.5l15.2 15.2m-15.2 0l15.2 -15.2"/><path d="M1389.1 759.2l15.2 15.2m-15.2 0l15.2 -15.2"/><path d="M1389.1 759.9l15.2 15.2m-15.2 0l15.2 -15.2"/><path d="M1389.1 760.6l15.2 15.2m-15.2 0l15.2 -15.2"/><path d="M1389.1 761.4l15.2 15.2m-15.2 0l15.2 -15.2"/><path d="M1389.1 762.1l15.2 15.2m-15.2 0l15.2 -15.2"/><path d="M1389.1 762.8l15.2 15.2m-15.2 0l15.2 -15.2"/><path d="M1389.1 763.5l15.2 15.2m-15.2 0l15.2 -15.2"/><path d="M1389.1 764.2l15.2 15.2m-15.2 0l15.2 -15.2"/><path d="M1389.1 764.9l15.2 15.2m-15.2 0l15.2 -15.2"/><path d="M1389.1 765.6l15.2 15.2m-15.2 0l15.2 -15.2"/><path d="M1389.1 766.3l15.2 15.2m-15.2 0l15.2 -15.2"/><path d="M1389.1 767.0l15.2 15.2m-15.2 0l15.2 -15.2"/><path d="M1389.1 767.7l15.2 15.2m-15.2 0l15.2 -15.2"/><path d="M1389.1 768.4l15.2 15.2m-15.2 0l15.2 -15.2"/><path d="M1389.1 769.1l15.2 15.2m-15.2 0l15.2 -15.2"/><path d="M1389.1 769.8l15.2 15.2m-15.2 0l15.2 -15.2"/><path d="M1389.1 770.6l15.2 15.2m-15.2 0l15.2 -15.2"/><path d="M1389.1 771.3l15.2 15.2m-15.2 0l15.2 -15.2"/><path d="M1389.1 772.0l15.2 15.2m-15.2 0l15.2 -15.2"/><path d="M1389.1 772.7l15.2 15.2m-15.2 0l15.2 -15.2"/><path d="M1389.1 773.4l15.2 15.2m-15.2 0l15.2 -15.2"/><path d="M1389.1 774.1l15.2 15.2m-15.2 0l15.2 -15.2"/><path d="M1389.1 774.8l15.2 15.2m-15.2 0l15.2 -15.2"/><path class="t" d="M1389.1 734.7l15.2 15.2m-15.2 0l15.2 -15.2"/><path class="t" d="M1389.1 736.0l15.2 15.2m-15.2 0l15.2 -15.2"/><path class="t" d="M1389.1 737.3l15.2 15.2m-15.2 0l15.2 -15.2"/><path class="t" d="M1389.1 738.7l15.2 15.2m-15.2 0l15.2 -15.2"/><path class="t" d="M1389.1 740.0l15.2 15.2m-15.2 0l15.2 -15.2"/><path class="t" d="M1389.1 779.3l15.2 15.2m-15.2 0l15.2 -15.2"/><path d="M1454.4 713.5l15.2 15.2m-15.2 0l15.2 -15.2"/><path d="M1454.4 714.2l15.2 15.2m-15.2 0l15.2 -15.2"/><path d="M1454.4 714.9l15.2 15.2m-15.2 0l15.2 -15.2"/><path d="M1454.4 715.6l15.2 15.2m-15.2 0l15.2 -15.2"/><path d="M1454.4 716.3l15.2 15.2m-15.2 0l15.2 -15.2"/><path d="M1454.4 717.0l15.2 15.2m-15.2 0l15.2 -15.2"/><path d="M1454.4 717.7l15.2 15.2m-15.2 0l15.2 -15.2"/><path d="M1454.4 718.4l15.2 15.2m-15.2 0l15.2 -15.2"/><path d="M1454.4 719.1l15.2 15.2m-15.2 0l15.2 -15.2"/><path d="M1454.4 719.8l15.2 15.2m-15.2 0l15.2 -15.2"/><path d="M1454.4 720.6l15.2 15.2m-15.2 0l15.2 -15.2"/><path d="M1454.4 721.3l15.2 15.2m-15.2 0l15.2 -15.2"/><path d="M1454.4 722.0l15.2 15.2m-15.2 0l15.2 -15.2"/><path d="M1454.4 722.7l15.2 15.2m-15.2 0l15.2 -15.2"/><path d="M1454.4 723.4l15.2 15.2m-15.2 0l15.2 -15.2"/><path d="M1454.4 724.1l15.2 15.2m-15.2 0l15.2 -15.2"/><path d="M1454.4 724.8l15.2 15.2m-15.2 0l15.2 -15.2"/><path d="M1454.4 725.5l15.2 15.2m-15.2 0l15.2 -15.2"/><path d="M1454.4 726.2l15.2 15.2m-15.2 0l15.2 -15.2"/><path d="M1454.4 726.9l15.2 15.2m-15.2 0l15.2 -15.2"/><path d="M1454.4 727.6l15.2 15.2m-15.2 0l15.2 -15.2"/><path d="M1454.4 728.3l15.2 15.2m-15.2 0l15.2 -15.2"/><path d="M1454.4 729.0l15.2 15.2m-15.2 0l15.2 -15.2"/><path d="M1454.4 729.7l15.2 15.2m-15.2 0l15.2 -15.2"/><path d="M1454.4 730.4l15.2 15.2m-15.2 0l15.2 -15.2"/><path d="M1454.4 731.1l15.2 15.2m-15.2 0l15.2 -15.2"/><path d="M1454.4 731.8l15.2 15.2m-15.2 0l15.2 -15.2"/><path d="M1454.4 732.5l15.2 15.2m-15.2 0l15.2 -15.2"/><path d="M1454.4 733.2l15.2 15.2m-15.2 0l15.2 -15.2"/><path d="M1454.4 734.0l15.2 15.2m-15.2 0l15.2 -15.2"/><path d="M1454.4 734.7l15.2 15.2m-15.2 0l15.2 -15.2"/><path d="M1454.4 735.4l15.2 15.2m-15.2 0l15.2 -15.2"/><path d="M1454.4 736.1l15.2 15.2m-15.2 0l15.2 -15.2"/><path d="M1454.4 736.8l15.2 15.2m-15.2 0l15.2 -15.2"/><path d="M1454.4 737.5l15.2 15.2m-15.2 0l15.2 -15.2"/><path d="M1454.4 738.2l15.2 15.2m-15.2 0l15.2 -15.2"/><path d="M1454.4 738.9l15.2 15.2m-15.2 0l15.2 -15.2"/><path d="M1454.4 739.6l15.2 15.2m-15.2 0l15.2 -15.2"/><path d="M1454.4 740.3l15.2 15.2m-15.2 0l15.2 -15.2"/><path class="t" d="M1454.4 745.4l15.2 15.2m-15.2 0l15.2 -15.2"/><path class="t" d="M1454.4 749.4l15.2 15.2m-15.2 0l15.2 -15.2"/><path class="t" d="M1454.4 755.9l15.2 15.2m-15.2 0l15.2 -15.2"/><path d="M1519.8 714.9l15.2 15.2m-15.2 0l15.2 -15.2"/><path d="M1519.8 715.7l15.2 15.2m-15.2 0l15.2 -15.2"/><path d="M1519.8 716.5l15.2 15.2m-15.2 0l15.2 -15.2"/><path d="M1519.8 717.3l15.2 15.2m-15.2 0l15.2 -15.2"/><path class="t" d="M1519.8 723.9l15.2 15.2m-15.2 0l15.2 -15.2"/></g>
<path d="M1331.39 719.81V917.2M1329.99 721.21H1592.7" fill="none" stroke="#ff0000" stroke-width="2.6" stroke-dasharray="2.8 3.3"/>
<text class="tl" x="1173.7" y="592.9" textLength="230.1">3 Factors &amp; 9 Items</text>
<line x1="1592.7" y1="917.2" x2="2050.0" y2="459.9" stroke="#c4c4c8" stroke-width="1.0"/>
<g class="pt"><circle cx="1658.03" cy="881.62" r="7.7"/><circle cx="1657.92" cy="886.07" r="7.7"/><circle cx="1657.84" cy="881.86" r="7.7"/><circle cx="1657.98" cy="883.16" r="7.7"/><circle cx="1657.85" cy="883.97" r="7.7"/><circle cx="1658.07" cy="884.50" r="7.7"/><circle cx="1658.21" cy="885.43" r="7.7"/><circle cx="1657.85" cy="883.82" r="7.7"/><circle cx="1723.60" cy="845.03" r="7.7"/><circle cx="1723.51" cy="855.67" r="7.7"/><circle cx="1723.56" cy="845.47" r="7.7"/><circle cx="1723.51" cy="846.38" r="7.7"/><circle cx="1723.53" cy="846.91" r="7.7"/><circle cx="1723.13" cy="848.05" r="7.7"/><circle cx="1723.37" cy="848.93" r="7.7"/><circle cx="1723.59" cy="849.48" r="7.7"/><circle cx="1723.57" cy="850.31" r="7.7"/><circle cx="1723.23" cy="851.34" r="7.7"/><circle cx="1723.32" cy="852.00" r="7.7"/><circle cx="1723.42" cy="852.76" r="7.7"/><circle cx="1723.29" cy="853.84" r="7.7"/><circle cx="1723.37" cy="854.58" r="7.7"/><circle cx="1723.14" cy="855.19" r="7.7"/><circle cx="1723.32" cy="847.59" r="7.7"/><circle cx="1723.36" cy="848.59" r="7.7"/><circle cx="1723.12" cy="849.66" r="7.7"/><circle cx="1788.56" cy="815.03" r="7.7"/><circle cx="1788.70" cy="826.07" r="7.7"/><circle cx="1788.65" cy="815.27" r="7.7"/><circle cx="1788.91" cy="816.54" r="7.7"/><circle cx="1788.58" cy="817.29" r="7.7"/><circle cx="1788.59" cy="818.22" r="7.7"/><circle cx="1788.76" cy="818.92" r="7.7"/><circle cx="1788.50" cy="819.86" r="7.7"/><circle cx="1788.73" cy="820.75" r="7.7"/><circle cx="1788.91" cy="821.60" r="7.7"/><circle cx="1788.69" cy="822.01" r="7.7"/><circle cx="1788.57" cy="823.17" r="7.7"/><circle cx="1788.67" cy="823.83" r="7.7"/><circle cx="1788.70" cy="824.89" r="7.7"/><circle cx="1788.51" cy="825.53" r="7.7"/><circle cx="1788.50" cy="821.02" r="7.7"/><circle cx="1788.50" cy="825.24" r="7.7"/><circle cx="1788.58" cy="821.89" r="7.7"/><circle cx="1788.7" cy="813.03" r="7.7" class="t"/><circle cx="1788.7" cy="810.50" r="7.7" class="t"/></g>
<g class="bx"><path d="M1846.4 776.7l15.2 15.2m-15.2 0l15.2 -15.2"/><path d="M1846.4 777.4l15.2 15.2m-15.2 0l15.2 -15.2"/><path d="M1846.4 778.1l15.2 15.2m-15.2 0l15.2 -15.2"/><path d="M1846.4 778.8l15.2 15.2m-15.2 0l15.2 -15.2"/><path d="M1846.4 779.5l15.2 15.2m-15.2 0l15.2 -15.2"/><path d="M1846.4 780.2l15.2 15.2m-15.2 0l15.2 -15.2"/><path d="M1846.4 780.9l15.2 15.2m-15.2 0l15.2 -15.2"/><path d="M1846.4 781.6l15.2 15.2m-15.2 0l15.2 -15.2"/><path d="M1846.4 782.3l15.2 15.2m-15.2 0l15.2 -15.2"/><path d="M1846.4 783.0l15.2 15.2m-15.2 0l15.2 -15.2"/><path d="M1846.4 783.8l15.2 15.2m-15.2 0l15.2 -15.2"/><path d="M1846.4 784.5l15.2 15.2m-15.2 0l15.2 -15.2"/><path d="M1846.4 785.2l15.2 15.2m-15.2 0l15.2 -15.2"/><path d="M1846.4 785.9l15.2 15.2m-15.2 0l15.2 -15.2"/><path d="M1846.4 786.6l15.2 15.2m-15.2 0l15.2 -15.2"/><path d="M1846.4 787.3l15.2 15.2m-15.2 0l15.2 -15.2"/><path d="M1846.4 788.0l15.2 15.2m-15.2 0l15.2 -15.2"/><path d="M1846.4 788.7l15.2 15.2m-15.2 0l15.2 -15.2"/><path d="M1846.4 789.4l15.2 15.2m-15.2 0l15.2 -15.2"/><path d="M1846.4 790.1l15.2 15.2m-15.2 0l15.2 -15.2"/><path class="t" d="M1846.4 773.2l15.2 15.2m-15.2 0l15.2 -15.2"/><path class="t" d="M1846.4 791.9l15.2 15.2m-15.2 0l15.2 -15.2"/><path class="t" d="M1846.4 797.8l15.2 15.2m-15.2 0l15.2 -15.2"/><path d="M1911.7 749.4l15.2 15.2m-15.2 0l15.2 -15.2"/><path d="M1911.7 750.1l15.2 15.2m-15.2 0l15.2 -15.2"/><path d="M1911.7 750.8l15.2 15.2m-15.2 0l15.2 -15.2"/><path d="M1911.7 751.6l15.2 15.2m-15.2 0l15.2 -15.2"/><path d="M1911.7 752.3l15.2 15.2m-15.2 0l15.2 -15.2"/><path d="M1911.7 753.0l15.2 15.2m-15.2 0l15.2 -15.2"/><path d="M1911.7 753.7l15.2 15.2m-15.2 0l15.2 -15.2"/><path d="M1911.7 754.4l15.2 15.2m-15.2 0l15.2 -15.2"/><path d="M1911.7 755.1l15.2 15.2m-15.2 0l15.2 -15.2"/><path d="M1911.7 755.9l15.2 15.2m-15.2 0l15.2 -15.2"/><path d="M1911.7 756.6l15.2 15.2m-15.2 0l15.2 -15.2"/><path d="M1911.7 757.3l15.2 15.2m-15.2 0l15.2 -15.2"/><path d="M1911.7 758.0l15.2 15.2m-15.2 0l15.2 -15.2"/><path d="M1911.7 758.7l15.2 15.2m-15.2 0l15.2 -15.2"/><path d="M1911.7 759.5l15.2 15.2m-15.2 0l15.2 -15.2"/><path d="M1911.7 760.2l15.2 15.2m-15.2 0l15.2 -15.2"/><path d="M1911.7 760.9l15.2 15.2m-15.2 0l15.2 -15.2"/><path d="M1911.7 761.6l15.2 15.2m-15.2 0l15.2 -15.2"/><path d="M1911.7 762.3l15.2 15.2m-15.2 0l15.2 -15.2"/><path d="M1911.7 763.1l15.2 15.2m-15.2 0l15.2 -15.2"/><path d="M1911.7 763.8l15.2 15.2m-15.2 0l15.2 -15.2"/><path d="M1911.7 764.5l15.2 15.2m-15.2 0l15.2 -15.2"/><path d="M1911.7 765.2l15.2 15.2m-15.2 0l15.2 -15.2"/><path d="M1911.7 765.9l15.2 15.2m-15.2 0l15.2 -15.2"/><path d="M1911.7 766.6l15.2 15.2m-15.2 0l15.2 -15.2"/><path d="M1911.7 767.4l15.2 15.2m-15.2 0l15.2 -15.2"/><path d="M1911.7 768.1l15.2 15.2m-15.2 0l15.2 -15.2"/><path d="M1911.7 768.8l15.2 15.2m-15.2 0l15.2 -15.2"/><path class="t" d="M1911.7 737.9l15.2 15.2m-15.2 0l15.2 -15.2"/><path class="t" d="M1911.7 744.4l15.2 15.2m-15.2 0l15.2 -15.2"/><path d="M1977.1 723.2l15.2 15.2m-15.2 0l15.2 -15.2"/><path d="M1977.1 723.9l15.2 15.2m-15.2 0l15.2 -15.2"/><path d="M1977.1 724.6l15.2 15.2m-15.2 0l15.2 -15.2"/><path d="M1977.1 725.4l15.2 15.2m-15.2 0l15.2 -15.2"/><path d="M1977.1 726.1l15.2 15.2m-15.2 0l15.2 -15.2"/><path d="M1977.1 726.8l15.2 15.2m-15.2 0l15.2 -15.2"/><path d="M1977.1 727.5l15.2 15.2m-15.2 0l15.2 -15.2"/><path d="M1977.1 728.3l15.2 15.2m-15.2 0l15.2 -15.2"/><path d="M1977.1 729.0l15.2 15.2m-15.2 0l15.2 -15.2"/><path d="M1977.1 729.7l15.2 15.2m-15.2 0l15.2 -15.2"/><path d="M1977.1 730.4l15.2 15.2m-15.2 0l15.2 -15.2"/><path d="M1977.1 731.2l15.2 15.2m-15.2 0l15.2 -15.2"/><path d="M1977.1 731.9l15.2 15.2m-15.2 0l15.2 -15.2"/><path d="M1977.1 732.6l15.2 15.2m-15.2 0l15.2 -15.2"/><path d="M1977.1 733.3l15.2 15.2m-15.2 0l15.2 -15.2"/><path d="M1977.1 734.1l15.2 15.2m-15.2 0l15.2 -15.2"/><path d="M1977.1 734.8l15.2 15.2m-15.2 0l15.2 -15.2"/><path d="M1977.1 735.5l15.2 15.2m-15.2 0l15.2 -15.2"/><path d="M1977.1 736.2l15.2 15.2m-15.2 0l15.2 -15.2"/><path d="M1977.1 737.0l15.2 15.2m-15.2 0l15.2 -15.2"/><path d="M1977.1 737.7l15.2 15.2m-15.2 0l15.2 -15.2"/><path d="M1977.1 738.4l15.2 15.2m-15.2 0l15.2 -15.2"/><path d="M1977.1 739.1l15.2 15.2m-15.2 0l15.2 -15.2"/><path d="M1977.1 739.9l15.2 15.2m-15.2 0l15.2 -15.2"/><path d="M1977.1 740.6l15.2 15.2m-15.2 0l15.2 -15.2"/><path d="M1977.1 741.3l15.2 15.2m-15.2 0l15.2 -15.2"/><path class="t" d="M1977.1 745.1l15.2 15.2m-15.2 0l15.2 -15.2"/><path class="t" d="M1977.1 747.4l15.2 15.2m-15.2 0l15.2 -15.2"/><path class="t" d="M1977.1 750.4l15.2 15.2m-15.2 0l15.2 -15.2"/></g>
<path d="M1788.69 719.81V917.2M1787.29 721.21H2050.0" fill="none" stroke="#ff0000" stroke-width="2.6" stroke-dasharray="2.8 3.3"/>
<text class="tl" x="1630.1" y="592.9" textLength="245.5">3 Factors &amp; 18 Items</text>
<line x1="1135.4" y1="2.6" x2="1135.4" y2="918.2" stroke="#000" stroke-width="1.6"/>
<line x1="1592.7" y1="2.6" x2="1592.7" y2="918.2" stroke="#000" stroke-width="1.6"/>
<line x1="1135.4" y1="459.9" x2="2050.0" y2="459.9" stroke="#333" stroke-width="1.8"/>
<line x1="1135.4" y1="917.2" x2="2050.0" y2="917.2" stroke="#000" stroke-width="1.9"/>
<line x1="1130.4" y1="459.9" x2="1135.4" y2="459.9" stroke="#000" stroke-width="1.5"/>
<text class="tk" text-anchor="middle" transform="translate(1113.9,459.9) rotate(-90)">0</text>
<line x1="1130.4" y1="394.6" x2="1135.4" y2="394.6" stroke="#000" stroke-width="1.5"/>
<line x1="1130.4" y1="329.2" x2="1135.4" y2="329.2" stroke="#000" stroke-width="1.5"/>
<text class="tk" text-anchor="middle" transform="translate(1113.9,329.2) rotate(-90)">0.04</text>
<line x1="1130.4" y1="263.9" x2="1135.4" y2="263.9" stroke="#000" stroke-width="1.5"/>
<line x1="1130.4" y1="198.6" x2="1135.4" y2="198.6" stroke="#000" stroke-width="1.5"/>
<text class="tk" text-anchor="middle" transform="translate(1113.9,198.6) rotate(-90)">0.08</text>
<line x1="1130.4" y1="133.3" x2="1135.4" y2="133.3" stroke="#000" stroke-width="1.5"/>
<line x1="1130.4" y1="67.9" x2="1135.4" y2="67.9" stroke="#000" stroke-width="1.5"/>
<text class="tk" text-anchor="middle" transform="translate(1113.9,67.9) rotate(-90)">0.12</text>
<text class="lb" text-anchor="middle" transform="translate(1067.6,231.2) rotate(-90)">DWLS-RMSEA<tspan font-size="19" dy="4">S</tspan></text>
<line x1="1130.4" y1="917.2" x2="1135.4" y2="917.2" stroke="#000" stroke-width="1.5"/>
<text class="tk" text-anchor="middle" transform="translate(1113.9,917.2) rotate(-90)">0</text>
<line x1="1130.4" y1="851.9" x2="1135.4" y2="851.9" stroke="#000" stroke-width="1.5"/>
<line x1="1130.4" y1="786.5" x2="1135.4" y2="786.5" stroke="#000" stroke-width="1.5"/>
<text class="tk" text-anchor="middle" transform="translate(1113.9,786.5) rotate(-90)">0.04</text>
<line x1="1130.4" y1="721.2" x2="1135.4" y2="721.2" stroke="#000" stroke-width="1.5"/>
<line x1="1130.4" y1="655.9" x2="1135.4" y2="655.9" stroke="#000" stroke-width="1.5"/>
<text class="tk" text-anchor="middle" transform="translate(1113.9,655.9) rotate(-90)">0.08</text>
<line x1="1130.4" y1="590.6" x2="1135.4" y2="590.6" stroke="#000" stroke-width="1.5"/>
<line x1="1130.4" y1="525.2" x2="1135.4" y2="525.2" stroke="#000" stroke-width="1.5"/>
<text class="tk" text-anchor="middle" transform="translate(1113.9,525.2) rotate(-90)">0.12</text>
<text class="lb" text-anchor="middle" transform="translate(1067.6,688.6) rotate(-90)">DWLS-RMSEA<tspan font-size="19" dy="4">S</tspan></text>
<line x1="1135.4" y1="917.2" x2="1135.4" y2="922.2" stroke="#000" stroke-width="1.6"/>
<text class="tk" text-anchor="middle" x="1135.4" y="945.2">0</text>
<line x1="1200.7" y1="917.2" x2="1200.7" y2="922.2" stroke="#000" stroke-width="1.6"/>
<line x1="1266.1" y1="917.2" x2="1266.1" y2="922.2" stroke="#000" stroke-width="1.6"/>
<text class="tk" text-anchor="middle" x="1266.1" y="945.2">0.04</text>
<line x1="1331.4" y1="917.2" x2="1331.4" y2="922.2" stroke="#000" stroke-width="1.6"/>
<line x1="1396.7" y1="917.2" x2="1396.7" y2="922.2" stroke="#000" stroke-width="1.6"/>
<text class="tk" text-anchor="middle" x="1396.7" y="945.2">0.08</text>
<line x1="1462.0" y1="917.2" x2="1462.0" y2="922.2" stroke="#000" stroke-width="1.6"/>
<line x1="1527.4" y1="917.2" x2="1527.4" y2="922.2" stroke="#000" stroke-width="1.6"/>
<text class="tk" text-anchor="middle" x="1527.4" y="945.2">0.12</text>
<text class="lb" text-anchor="middle" x="1364.1" y="983.2">ML-RMSEA<tspan font-size="19" dy="4">U</tspan></text>
<line x1="1592.7" y1="917.2" x2="1592.7" y2="922.2" stroke="#000" stroke-width="1.6"/>
<text class="tk" text-anchor="middle" x="1592.7" y="945.2">0</text>
<line x1="1658.0" y1="917.2" x2="1658.0" y2="922.2" stroke="#000" stroke-width="1.6"/>
<line x1="1723.4" y1="917.2" x2="1723.4" y2="922.2" stroke="#000" stroke-width="1.6"/>
<text class="tk" text-anchor="middle" x="1723.4" y="945.2">0.04</text>
<line x1="1788.7" y1="917.2" x2="1788.7" y2="922.2" stroke="#000" stroke-width="1.6"/>
<line x1="1854.0" y1="917.2" x2="1854.0" y2="922.2" stroke="#000" stroke-width="1.6"/>
<text class="tk" text-anchor="middle" x="1854.0" y="945.2">0.08</text>
<line x1="1919.3" y1="917.2" x2="1919.3" y2="922.2" stroke="#000" stroke-width="1.6"/>
<line x1="1984.7" y1="917.2" x2="1984.7" y2="922.2" stroke="#000" stroke-width="1.6"/>
<text class="tk" text-anchor="middle" x="1984.7" y="945.2">0.12</text>
<text class="lb" text-anchor="middle" x="1821.4" y="983.2">ML-RMSEA<tspan font-size="19" dy="4">U</tspan></text>
</svg></body></html>
